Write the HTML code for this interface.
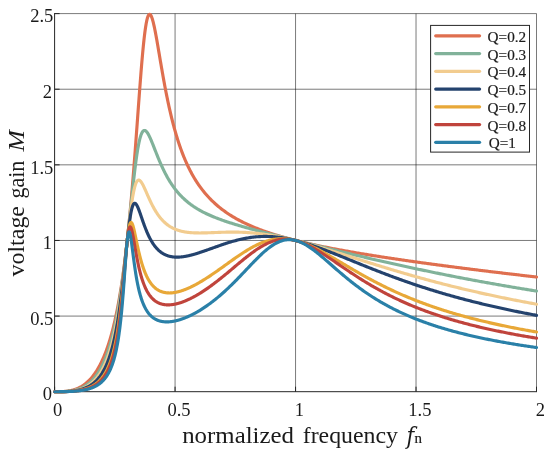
<!DOCTYPE html>
<html><head><meta charset="utf-8"><title>voltage gain</title>
<style>
html,body{margin:0;padding:0;background:#fff;}
svg{display:block;}
text{font-family:"Liberation Serif",serif;fill:#1a1a1a;}
text.fi{font-family:"DejaVu Serif Condensed","DejaVu Serif",serif;font-style:italic;font-size:23.4px;}
</style></head><body>
<svg width="550" height="453" viewBox="0 0 550 453">
<rect width="550" height="453" fill="#fff"/>
<g stroke="#000" stroke-opacity="0.52" stroke-width="1"><line x1="175.07" y1="13.6" x2="175.07" y2="391.7"/><line x1="295.55" y1="13.6" x2="295.55" y2="391.7"/><line x1="416.02" y1="13.6" x2="416.02" y2="391.7"/><line x1="536.50" y1="13.6" x2="536.50" y2="391.7"/><line x1="54.6" y1="316.08" x2="536.5" y2="316.08"/><line x1="54.6" y1="240.46" x2="536.5" y2="240.46"/><line x1="54.6" y1="164.84" x2="536.5" y2="164.84"/><line x1="54.6" y1="89.22" x2="536.5" y2="89.22"/><line x1="54.6" y1="13.60" x2="536.5" y2="13.60"/></g>
<g stroke="#262626" stroke-width="1" fill="none"><line x1="54.6" y1="13.1" x2="54.6" y2="392.2"/><line x1="54.1" y1="391.7" x2="537.0" y2="391.7"/><line x1="54.60" y1="391.7" x2="54.60" y2="386.7"/><line x1="175.07" y1="391.7" x2="175.07" y2="386.7"/><line x1="295.55" y1="391.7" x2="295.55" y2="386.7"/><line x1="416.02" y1="391.7" x2="416.02" y2="386.7"/><line x1="536.50" y1="391.7" x2="536.50" y2="386.7"/><line x1="54.6" y1="391.70" x2="59.6" y2="391.70"/><line x1="54.6" y1="316.08" x2="59.6" y2="316.08"/><line x1="54.6" y1="240.46" x2="59.6" y2="240.46"/><line x1="54.6" y1="164.84" x2="59.6" y2="164.84"/><line x1="54.6" y1="89.22" x2="59.6" y2="89.22"/><line x1="54.6" y1="13.60" x2="59.6" y2="13.60"/></g>
<g><polyline points="54.72,391.70 55.01,391.70 55.30,391.70 55.59,391.70 55.88,391.70 56.17,391.70 56.46,391.70 56.75,391.70 57.04,391.70 57.33,391.69 57.62,391.69 57.90,391.69 58.19,391.69 58.48,391.68 58.77,391.68 59.06,391.68 59.35,391.67 59.64,391.67 59.93,391.66 60.22,391.65 60.51,391.64 60.80,391.64 61.09,391.63 61.38,391.62 61.67,391.60 61.96,391.59 62.25,391.58 62.54,391.56 62.83,391.55 63.12,391.53 63.40,391.52 63.69,391.50 63.98,391.48 64.27,391.46 64.56,391.43 64.85,391.41 65.14,391.38 65.43,391.36 65.72,391.33 66.01,391.30 66.30,391.27 66.59,391.23 66.88,391.20 67.17,391.16 67.46,391.13 67.75,391.09 68.04,391.04 68.33,391.00 68.62,390.96 68.90,390.91 69.19,390.86 69.48,390.81 69.77,390.76 70.06,390.70 70.35,390.64 70.64,390.59 70.93,390.52 71.22,390.46 71.51,390.39 71.80,390.33 72.09,390.26 72.38,390.18 72.67,390.11 72.96,390.03 73.25,389.95 73.54,389.87 73.83,389.78 74.12,389.69 74.40,389.60 74.69,389.51 74.98,389.41 75.27,389.31 75.56,389.21 75.85,389.11 76.14,389.00 76.43,388.89 76.72,388.77 77.01,388.66 77.30,388.54 77.59,388.41 77.88,388.29 78.17,388.16 78.46,388.03 78.75,387.89 79.04,387.75 79.33,387.61 79.62,387.46 79.91,387.31 80.19,387.16 80.48,387.00 80.77,386.84 81.06,386.68 81.35,386.51 81.64,386.34 81.93,386.16 82.22,385.98 82.51,385.80 82.80,385.61 83.09,385.42 83.38,385.22 83.67,385.02 83.96,384.82 84.25,384.61 84.54,384.40 84.83,384.18 85.12,383.96 85.41,383.73 85.69,383.50 85.98,383.27 86.27,383.03 86.56,382.78 86.85,382.53 87.14,382.28 87.43,382.02 87.72,381.76 88.01,381.49 88.30,381.21 88.59,380.93 88.88,380.65 89.17,380.36 89.46,380.06 89.75,379.76 90.04,379.46 90.33,379.15 90.62,378.83 90.91,378.51 91.19,378.18 91.48,377.84 91.77,377.50 92.06,377.16 92.35,376.80 92.64,376.45 92.93,376.08 93.22,375.71 93.51,375.33 93.80,374.95 94.09,374.56 94.38,374.16 94.67,373.75 94.96,373.34 95.25,372.92 95.54,372.50 95.83,372.07 96.12,371.63 96.41,371.18 96.69,370.72 96.98,370.26 97.27,369.79 97.56,369.32 97.85,368.83 98.14,368.34 98.43,367.83 98.72,367.32 99.01,366.81 99.30,366.28 99.59,365.74 99.88,365.20 100.17,364.65 100.46,364.08 100.75,363.51 101.04,362.93 101.33,362.34 101.62,361.74 101.91,361.13 102.19,360.51 102.48,359.88 102.77,359.24 103.06,358.59 103.35,357.93 103.64,357.26 103.93,356.58 104.22,355.89 104.51,355.18 104.80,354.47 105.09,353.74 105.38,353.00 105.67,352.25 105.96,351.49 106.25,350.71 106.54,349.92 106.83,349.12 107.12,348.31 107.41,347.48 107.69,346.64 107.98,345.79 108.27,344.92 108.56,344.04 108.85,343.14 109.14,342.23 109.43,341.30 109.72,340.36 110.01,339.40 110.30,338.43 110.59,337.44 110.88,336.44 111.17,335.41 111.46,334.38 111.75,333.32 112.04,332.25 112.33,331.16 112.62,330.05 112.91,328.92 113.20,327.77 113.48,326.61 113.77,325.42 114.06,324.22 114.35,322.99 114.64,321.75 114.93,320.48 115.22,319.19 115.51,317.88 115.80,316.55 116.09,315.19 116.38,313.81 116.67,312.41 116.96,310.99 117.25,309.54 117.54,308.06 117.83,306.56 118.12,305.04 118.41,303.48 118.70,301.90 118.98,300.30 119.27,298.66 119.56,297.00 119.85,295.31 120.14,293.59 120.43,291.83 120.72,290.05 121.01,288.24 121.30,286.39 121.59,284.52 121.88,282.61 122.17,280.66 122.46,278.69 122.75,276.67 123.04,274.63 123.33,272.54 123.62,270.42 123.91,268.26 124.20,266.07 124.48,263.84 124.77,261.56 125.06,259.25 125.35,256.90 125.64,254.51 125.93,252.07 126.22,249.60 126.51,247.08 126.80,244.52 127.09,241.91 127.38,239.26 127.67,236.57 127.96,233.83 128.25,231.04 128.54,228.21 128.83,225.34 129.12,222.41 129.41,219.44 129.70,216.43 129.98,213.36 130.27,210.25 130.56,207.09 130.85,203.89 131.14,200.64 131.43,197.34 131.72,193.99 132.01,190.60 132.30,187.16 132.59,183.68 132.88,180.15 133.17,176.58 133.46,172.97 133.75,169.32 134.04,165.63 134.33,161.90 134.62,158.14 134.91,154.34 135.20,150.51 135.48,146.65 135.77,142.77 136.06,138.86 136.35,134.93 136.64,130.98 136.93,127.02 137.22,123.05 137.51,119.08 137.80,115.10 138.09,111.12 138.38,107.16 138.67,103.20 138.96,99.27 139.25,95.35 139.54,91.47 139.83,87.62 140.12,83.81 140.41,80.04 140.70,76.33 140.98,72.68 141.27,69.10 141.56,65.58 141.85,62.14 142.14,58.79 142.43,55.52 142.72,52.35 143.01,49.28 143.30,46.32 143.59,43.47 143.88,40.74 144.17,38.13 144.46,35.64 144.75,33.28 145.04,31.06 145.33,28.97 145.62,27.01 145.91,25.20 146.20,23.53 146.49,22.00 146.77,20.61 147.06,19.36 147.35,18.26 147.64,17.30 147.93,16.48 148.22,15.79 148.51,15.24 148.80,14.82 149.09,14.54 149.38,14.38 149.67,14.34 149.96,14.42 150.25,14.62 150.54,14.92 150.83,15.33 151.12,15.85 151.41,16.46 151.70,17.17 151.99,17.96 152.27,18.83 152.56,19.79 152.85,20.82 153.14,21.91 153.43,23.07 153.72,24.30 154.01,25.58 154.30,26.91 154.59,28.28 154.88,29.71 155.17,31.17 155.46,32.67 155.75,34.20 156.04,35.76 156.33,37.35 156.62,38.96 156.91,40.59 157.20,42.24 157.49,43.90 157.77,45.58 158.06,47.27 158.35,48.97 158.64,50.67 158.93,52.38 159.22,54.09 159.51,55.80 159.80,57.51 160.09,59.21 160.38,60.92 160.67,62.62 160.96,64.31 161.25,66.00 161.54,67.68 161.83,69.35 162.12,71.01 162.41,72.66 162.70,74.30 162.99,75.93 163.27,77.54 163.56,79.15 163.85,80.74 164.14,82.31 164.43,83.88 164.72,85.43 165.01,86.96 165.30,88.48 165.59,89.98 165.88,91.47 166.17,92.95 166.46,94.41 166.75,95.85 167.04,97.28 167.33,98.69 167.62,100.09 167.91,101.47 168.20,102.83 168.49,104.18 168.77,105.52 169.06,106.84 169.35,108.14 169.64,109.43 169.93,110.71 170.22,111.96 170.51,113.21 170.80,114.44 171.09,115.65 171.38,116.85 171.67,118.04 171.96,119.21 172.25,120.36 172.54,121.50 172.83,122.63 173.12,123.75 173.41,124.85 173.70,125.94 173.99,127.01 174.27,128.07 174.56,129.12 174.85,130.16 175.14,131.18 175.43,132.19 175.72,133.19 176.01,134.18 176.30,135.15 176.59,136.11 176.88,137.07 177.17,138.00 177.46,138.93 177.75,139.85 178.04,140.76 178.33,141.65 178.62,142.53 178.91,143.41 179.20,144.27 179.49,145.12 179.77,145.97 180.06,146.80 180.35,147.62 180.64,148.44 180.93,149.24 181.22,150.04 181.51,150.82 181.80,151.60 182.09,152.36 182.38,153.12 182.67,153.87 182.96,154.61 183.25,155.35 183.54,156.07 183.83,156.79 184.12,157.49 184.41,158.19 184.70,158.89 184.99,159.57 185.28,160.25 185.56,160.92 185.85,161.58 186.14,162.23 186.43,162.88 186.72,163.52 187.01,164.15 187.30,164.78 187.59,165.40 187.88,166.01 188.17,166.62 188.46,167.21 188.75,167.81 189.04,168.39 189.33,168.98 189.62,169.55 189.91,170.12 190.20,170.68 190.49,171.24 190.78,171.79 191.06,172.33 191.35,172.87 191.64,173.41 191.93,173.94 192.22,174.46 192.51,174.98 192.80,175.49 193.09,176.00 193.38,176.50 193.67,177.00 193.96,177.49 194.25,177.98 194.54,178.46 194.83,178.94 195.12,179.41 195.41,179.88 195.70,180.34 195.99,180.80 196.28,181.26 196.56,181.71 196.85,182.15 197.14,182.60 197.43,183.04 197.72,183.47 198.01,183.90 198.30,184.32 198.59,184.75 198.88,185.16 199.17,185.58 200.30,187.16 201.43,188.68 202.55,190.15 203.68,191.57 204.81,192.95 205.94,194.27 207.07,195.56 208.20,196.80 209.32,198.01 210.45,199.18 211.58,200.31 212.71,201.41 213.84,202.48 214.96,203.52 216.09,204.52 217.22,205.50 218.35,206.45 219.48,207.38 220.61,208.28 221.73,209.15 222.86,210.01 223.99,210.84 225.12,211.65 226.25,212.44 227.37,213.21 228.50,213.96 229.63,214.70 230.76,215.42 231.89,216.12 233.02,216.80 234.14,217.47 235.27,218.12 236.40,218.76 237.53,219.39 238.66,220.00 239.78,220.60 240.91,221.19 242.04,221.76 243.17,222.33 244.30,222.88 245.43,223.42 246.55,223.95 247.68,224.48 248.81,224.99 249.94,225.49 251.07,225.98 252.20,226.47 253.32,226.94 254.45,227.41 255.58,227.87 256.71,228.32 257.84,228.76 258.96,229.20 260.09,229.63 261.22,230.05 262.35,230.47 263.48,230.88 264.61,231.28 265.73,231.68 266.86,232.07 267.99,232.46 269.12,232.84 270.25,233.21 271.37,233.58 272.50,233.94 273.63,234.30 274.76,234.66 275.89,235.01 277.02,235.35 278.14,235.69 279.27,236.03 280.40,236.36 281.53,236.69 282.66,237.01 283.78,237.33 284.91,237.65 286.04,237.96 287.17,238.27 288.30,238.58 289.43,238.88 290.55,239.18 291.68,239.47 292.81,239.76 293.94,240.05 295.07,240.34 296.19,240.62 297.32,240.90 298.45,241.18 299.58,241.45 300.71,241.73 301.84,241.99 302.96,242.26 304.09,242.53 305.22,242.79 306.35,243.05 307.48,243.30 308.60,243.56 309.73,243.81 310.86,244.06 311.99,244.31 313.12,244.56 314.25,244.80 315.37,245.04 316.50,245.28 317.63,245.52 318.76,245.76 319.89,245.99 321.01,246.23 322.14,246.46 323.27,246.69 324.40,246.92 325.53,247.14 326.66,247.37 327.78,247.59 328.91,247.81 330.04,248.03 331.17,248.25 332.30,248.47 333.43,248.68 334.55,248.90 335.68,249.11 336.81,249.32 337.94,249.53 339.07,249.74 340.19,249.95 341.32,250.16 342.45,250.36 343.58,250.57 344.71,250.77 345.84,250.97 346.96,251.17 348.09,251.37 349.22,251.57 350.35,251.77 351.48,251.96 352.60,252.16 353.73,252.35 354.86,252.55 355.99,252.74 357.12,252.93 358.25,253.12 359.37,253.31 360.50,253.50 361.63,253.69 362.76,253.88 363.89,254.06 365.01,254.25 366.14,254.43 367.27,254.62 368.40,254.80 369.53,254.98 370.66,255.16 371.78,255.34 372.91,255.52 374.04,255.70 375.17,255.88 376.30,256.06 377.42,256.23 378.55,256.41 379.68,256.59 380.81,256.76 381.94,256.94 383.07,257.11 384.19,257.28 385.32,257.46 386.45,257.63 387.58,257.80 388.71,257.97 389.83,258.14 390.96,258.31 392.09,258.48 393.22,258.64 394.35,258.81 395.48,258.98 396.60,259.15 397.73,259.31 398.86,259.48 399.99,259.64 401.12,259.81 402.24,259.97 403.37,260.13 404.50,260.30 405.63,260.46 406.76,260.62 407.89,260.78 409.01,260.94 410.14,261.11 411.27,261.27 412.40,261.42 413.53,261.58 414.66,261.74 415.78,261.90 416.91,262.06 418.04,262.22 419.17,262.37 420.30,262.53 421.42,262.69 422.55,262.84 423.68,263.00 424.81,263.15 425.94,263.31 427.07,263.46 428.19,263.61 429.32,263.77 430.45,263.92 431.58,264.07 432.71,264.23 433.83,264.38 434.96,264.53 436.09,264.68 437.22,264.83 438.35,264.98 439.48,265.13 440.60,265.28 441.73,265.43 442.86,265.58 443.99,265.73 445.12,265.88 446.24,266.03 447.37,266.17 448.50,266.32 449.63,266.47 450.76,266.62 451.89,266.76 453.01,266.91 454.14,267.05 455.27,267.20 456.40,267.35 457.53,267.49 458.65,267.63 459.78,267.78 460.91,267.92 462.04,268.07 463.17,268.21 464.30,268.35 465.42,268.50 466.55,268.64 467.68,268.78 468.81,268.92 469.94,269.07 471.06,269.21 472.19,269.35 473.32,269.49 474.45,269.63 475.58,269.77 476.71,269.91 477.83,270.05 478.96,270.19 480.09,270.33 481.22,270.47 482.35,270.61 483.47,270.75 484.60,270.88 485.73,271.02 486.86,271.16 487.99,271.30 489.12,271.44 490.24,271.57 491.37,271.71 492.50,271.85 493.63,271.98 494.76,272.12 495.89,272.25 497.01,272.39 498.14,272.53 499.27,272.66 500.40,272.80 501.53,272.93 502.65,273.07 503.78,273.20 504.91,273.33 506.04,273.47 507.17,273.60 508.30,273.73 509.42,273.87 510.55,274.00 511.68,274.13 512.81,274.27 513.94,274.40 515.06,274.53 516.19,274.66 517.32,274.79 518.45,274.92 519.58,275.06 520.71,275.19 521.83,275.32 522.96,275.45 524.09,275.58 525.22,275.71 526.35,275.84 527.47,275.97 528.60,276.10 529.73,276.23 530.86,276.35 531.99,276.48 533.12,276.61 534.24,276.74 535.37,276.87 536.50,277.00" fill="none" stroke="#DF6F4F" stroke-width="3.15" stroke-linejoin="round" stroke-linecap="round"/><polyline points="54.72,391.70 55.01,391.70 55.30,391.70 55.59,391.70 55.88,391.70 56.17,391.70 56.46,391.70 56.75,391.70 57.04,391.70 57.33,391.70 57.62,391.70 57.90,391.69 58.19,391.69 58.48,391.69 58.77,391.69 59.06,391.68 59.35,391.68 59.64,391.68 59.93,391.67 60.22,391.67 60.51,391.66 60.80,391.66 61.09,391.65 61.38,391.64 61.67,391.64 61.96,391.63 62.25,391.62 62.54,391.61 62.83,391.60 63.12,391.59 63.40,391.58 63.69,391.56 63.98,391.55 64.27,391.54 64.56,391.52 64.85,391.50 65.14,391.49 65.43,391.47 65.72,391.45 66.01,391.43 66.30,391.41 66.59,391.38 66.88,391.36 67.17,391.34 67.46,391.31 67.75,391.28 68.04,391.25 68.33,391.22 68.62,391.19 68.90,391.16 69.19,391.13 69.48,391.09 69.77,391.05 70.06,391.02 70.35,390.98 70.64,390.93 70.93,390.89 71.22,390.85 71.51,390.80 71.80,390.75 72.09,390.70 72.38,390.65 72.67,390.60 72.96,390.54 73.25,390.48 73.54,390.43 73.83,390.36 74.12,390.30 74.40,390.24 74.69,390.17 74.98,390.10 75.27,390.03 75.56,389.95 75.85,389.88 76.14,389.80 76.43,389.72 76.72,389.64 77.01,389.55 77.30,389.46 77.59,389.37 77.88,389.28 78.17,389.19 78.46,389.09 78.75,388.99 79.04,388.88 79.33,388.78 79.62,388.67 79.91,388.56 80.19,388.44 80.48,388.32 80.77,388.20 81.06,388.08 81.35,387.95 81.64,387.82 81.93,387.69 82.22,387.55 82.51,387.41 82.80,387.26 83.09,387.12 83.38,386.97 83.67,386.81 83.96,386.65 84.25,386.49 84.54,386.33 84.83,386.16 85.12,385.98 85.41,385.81 85.69,385.62 85.98,385.44 86.27,385.25 86.56,385.05 86.85,384.86 87.14,384.65 87.43,384.45 87.72,384.23 88.01,384.02 88.30,383.80 88.59,383.57 88.88,383.34 89.17,383.10 89.46,382.86 89.75,382.62 90.04,382.37 90.33,382.11 90.62,381.85 90.91,381.58 91.19,381.31 91.48,381.03 91.77,380.74 92.06,380.45 92.35,380.16 92.64,379.85 92.93,379.54 93.22,379.23 93.51,378.91 93.80,378.58 94.09,378.24 94.38,377.90 94.67,377.55 94.96,377.20 95.25,376.84 95.54,376.47 95.83,376.09 96.12,375.70 96.41,375.31 96.69,374.91 96.98,374.50 97.27,374.09 97.56,373.66 97.85,373.23 98.14,372.79 98.43,372.34 98.72,371.88 99.01,371.41 99.30,370.94 99.59,370.45 99.88,369.96 100.17,369.45 100.46,368.93 100.75,368.41 101.04,367.87 101.33,367.33 101.62,366.77 101.91,366.20 102.19,365.63 102.48,365.04 102.77,364.44 103.06,363.82 103.35,363.20 103.64,362.56 103.93,361.92 104.22,361.25 104.51,360.58 104.80,359.89 105.09,359.19 105.38,358.48 105.67,357.75 105.96,357.01 106.25,356.25 106.54,355.48 106.83,354.70 107.12,353.90 107.41,353.08 107.69,352.25 107.98,351.40 108.27,350.54 108.56,349.66 108.85,348.76 109.14,347.85 109.43,346.91 109.72,345.96 110.01,344.99 110.30,344.01 110.59,343.00 110.88,341.97 111.17,340.93 111.46,339.86 111.75,338.77 112.04,337.67 112.33,336.54 112.62,335.39 112.91,334.21 113.20,333.02 113.48,331.80 113.77,330.56 114.06,329.29 114.35,328.01 114.64,326.69 114.93,325.35 115.22,323.99 115.51,322.60 115.80,321.18 116.09,319.74 116.38,318.27 116.67,316.77 116.96,315.24 117.25,313.69 117.54,312.10 117.83,310.49 118.12,308.85 118.41,307.17 118.70,305.47 118.98,303.73 119.27,301.97 119.56,300.17 119.85,298.34 120.14,296.48 120.43,294.58 120.72,292.66 121.01,290.70 121.30,288.70 121.59,286.67 121.88,284.61 122.17,282.52 122.46,280.39 122.75,278.23 123.04,276.03 123.33,273.80 123.62,271.54 123.91,269.24 124.20,266.91 124.48,264.55 124.77,262.15 125.06,259.73 125.35,257.27 125.64,254.78 125.93,252.26 126.22,249.72 126.51,247.14 126.80,244.54 127.09,241.91 127.38,239.26 127.67,236.59 127.96,233.90 128.25,231.18 128.54,228.45 128.83,225.71 129.12,222.95 129.41,220.18 129.70,217.40 129.98,214.62 130.27,211.83 130.56,209.04 130.85,206.26 131.14,203.48 131.43,200.71 131.72,197.95 132.01,195.20 132.30,192.48 132.59,189.77 132.88,187.10 133.17,184.45 133.46,181.83 133.75,179.25 134.04,176.72 134.33,174.22 134.62,171.77 134.91,169.38 135.20,167.03 135.48,164.75 135.77,162.52 136.06,160.36 136.35,158.26 136.64,156.23 136.93,154.27 137.22,152.39 137.51,150.58 137.80,148.84 138.09,147.19 138.38,145.61 138.67,144.11 138.96,142.70 139.25,141.36 139.54,140.11 139.83,138.94 140.12,137.85 140.41,136.84 140.70,135.91 140.98,135.06 141.27,134.29 141.56,133.59 141.85,132.97 142.14,132.42 142.43,131.94 142.72,131.54 143.01,131.20 143.30,130.93 143.59,130.72 143.88,130.57 144.17,130.48 144.46,130.45 144.75,130.47 145.04,130.54 145.33,130.67 145.62,130.84 145.91,131.05 146.20,131.31 146.49,131.61 146.77,131.95 147.06,132.32 147.35,132.72 147.64,133.16 147.93,133.63 148.22,134.12 148.51,134.64 148.80,135.19 149.09,135.75 149.38,136.34 149.67,136.94 149.96,137.57 150.25,138.21 150.54,138.86 150.83,139.52 151.12,140.20 151.41,140.89 151.70,141.58 151.99,142.29 152.27,143.00 152.56,143.72 152.85,144.44 153.14,145.17 153.43,145.90 153.72,146.63 154.01,147.37 154.30,148.10 154.59,148.84 154.88,149.58 155.17,150.31 155.46,151.05 155.75,151.78 156.04,152.52 156.33,153.24 156.62,153.97 156.91,154.69 157.20,155.41 157.49,156.13 157.77,156.84 158.06,157.55 158.35,158.25 158.64,158.95 158.93,159.65 159.22,160.33 159.51,161.02 159.80,161.69 160.09,162.37 160.38,163.03 160.67,163.69 160.96,164.35 161.25,164.99 161.54,165.64 161.83,166.27 162.12,166.90 162.41,167.53 162.70,168.14 162.99,168.75 163.27,169.36 163.56,169.96 163.85,170.55 164.14,171.14 164.43,171.72 164.72,172.29 165.01,172.86 165.30,173.42 165.59,173.97 165.88,174.52 166.17,175.06 166.46,175.60 166.75,176.13 167.04,176.66 167.33,177.17 167.62,177.69 167.91,178.19 168.20,178.69 168.49,179.19 168.77,179.68 169.06,180.16 169.35,180.64 169.64,181.11 169.93,181.58 170.22,182.04 170.51,182.50 170.80,182.95 171.09,183.40 171.38,183.84 171.67,184.27 171.96,184.70 172.25,185.13 172.54,185.55 172.83,185.97 173.12,186.38 173.41,186.78 173.70,187.18 173.99,187.58 174.27,187.97 174.56,188.36 174.85,188.75 175.14,189.12 175.43,189.50 175.72,189.87 176.01,190.24 176.30,190.60 176.59,190.96 176.88,191.31 177.17,191.66 177.46,192.00 177.75,192.35 178.04,192.69 178.33,193.02 178.62,193.35 178.91,193.68 179.20,194.00 179.49,194.32 179.77,194.64 180.06,194.95 180.35,195.26 180.64,195.56 180.93,195.87 181.22,196.17 181.51,196.46 181.80,196.76 182.09,197.05 182.38,197.33 182.67,197.62 182.96,197.90 183.25,198.17 183.54,198.45 183.83,198.72 184.12,198.99 184.41,199.26 184.70,199.52 184.99,199.78 185.28,200.04 185.56,200.29 185.85,200.55 186.14,200.80 186.43,201.04 186.72,201.29 187.01,201.53 187.30,201.77 187.59,202.01 187.88,202.25 188.17,202.48 188.46,202.71 188.75,202.94 189.04,203.17 189.33,203.39 189.62,203.61 189.91,203.83 190.20,204.05 190.49,204.27 190.78,204.48 191.06,204.69 191.35,204.90 191.64,205.11 191.93,205.32 192.22,205.52 192.51,205.72 192.80,205.92 193.09,206.12 193.38,206.32 193.67,206.52 193.96,206.71 194.25,206.90 194.54,207.09 194.83,207.28 195.12,207.47 195.41,207.65 195.70,207.83 195.99,208.02 196.28,208.20 196.56,208.38 196.85,208.55 197.14,208.73 197.43,208.90 197.72,209.08 198.01,209.25 198.30,209.42 198.59,209.59 198.88,209.75 199.17,209.92 200.30,210.56 201.43,211.17 202.55,211.77 203.68,212.35 204.81,212.92 205.94,213.47 207.07,214.00 208.20,214.52 209.32,215.03 210.45,215.53 211.58,216.02 212.71,216.49 213.84,216.95 214.96,217.41 216.09,217.85 217.22,218.29 218.35,218.72 219.48,219.14 220.61,219.55 221.73,219.96 222.86,220.36 223.99,220.75 225.12,221.14 226.25,221.52 227.37,221.89 228.50,222.26 229.63,222.63 230.76,222.99 231.89,223.35 233.02,223.70 234.14,224.05 235.27,224.39 236.40,224.73 237.53,225.07 238.66,225.41 239.78,225.74 240.91,226.07 242.04,226.40 243.17,226.72 244.30,227.04 245.43,227.36 246.55,227.68 247.68,228.00 248.81,228.31 249.94,228.62 251.07,228.93 252.20,229.24 253.32,229.55 254.45,229.85 255.58,230.16 256.71,230.46 257.84,230.76 258.96,231.06 260.09,231.36 261.22,231.66 262.35,231.96 263.48,232.26 264.61,232.55 265.73,232.85 266.86,233.14 267.99,233.44 269.12,233.73 270.25,234.02 271.37,234.31 272.50,234.61 273.63,234.90 274.76,235.19 275.89,235.48 277.02,235.76 278.14,236.05 279.27,236.34 280.40,236.63 281.53,236.92 282.66,237.20 283.78,237.49 284.91,237.78 286.04,238.06 287.17,238.35 288.30,238.63 289.43,238.92 290.55,239.20 291.68,239.49 292.81,239.77 293.94,240.06 295.07,240.34 296.19,240.62 297.32,240.90 298.45,241.19 299.58,241.47 300.71,241.75 301.84,242.03 302.96,242.32 304.09,242.60 305.22,242.88 306.35,243.16 307.48,243.44 308.60,243.72 309.73,244.00 310.86,244.28 311.99,244.56 313.12,244.84 314.25,245.12 315.37,245.40 316.50,245.68 317.63,245.96 318.76,246.23 319.89,246.51 321.01,246.79 322.14,247.07 323.27,247.34 324.40,247.62 325.53,247.90 326.66,248.17 327.78,248.45 328.91,248.72 330.04,249.00 331.17,249.27 332.30,249.55 333.43,249.82 334.55,250.10 335.68,250.37 336.81,250.64 337.94,250.92 339.07,251.19 340.19,251.46 341.32,251.73 342.45,252.01 343.58,252.28 344.71,252.55 345.84,252.82 346.96,253.09 348.09,253.36 349.22,253.63 350.35,253.90 351.48,254.17 352.60,254.43 353.73,254.70 354.86,254.97 355.99,255.24 357.12,255.50 358.25,255.77 359.37,256.03 360.50,256.30 361.63,256.56 362.76,256.83 363.89,257.09 365.01,257.36 366.14,257.62 367.27,257.88 368.40,258.14 369.53,258.41 370.66,258.67 371.78,258.93 372.91,259.19 374.04,259.45 375.17,259.71 376.30,259.97 377.42,260.22 378.55,260.48 379.68,260.74 380.81,261.00 381.94,261.25 383.07,261.51 384.19,261.76 385.32,262.02 386.45,262.27 387.58,262.53 388.71,262.78 389.83,263.03 390.96,263.29 392.09,263.54 393.22,263.79 394.35,264.04 395.48,264.29 396.60,264.54 397.73,264.79 398.86,265.04 399.99,265.28 401.12,265.53 402.24,265.78 403.37,266.03 404.50,266.27 405.63,266.52 406.76,266.76 407.89,267.01 409.01,267.25 410.14,267.49 411.27,267.73 412.40,267.98 413.53,268.22 414.66,268.46 415.78,268.70 416.91,268.94 418.04,269.18 419.17,269.42 420.30,269.65 421.42,269.89 422.55,270.13 423.68,270.36 424.81,270.60 425.94,270.83 427.07,271.07 428.19,271.30 429.32,271.54 430.45,271.77 431.58,272.00 432.71,272.23 433.83,272.46 434.96,272.69 436.09,272.92 437.22,273.15 438.35,273.38 439.48,273.61 440.60,273.84 441.73,274.06 442.86,274.29 443.99,274.51 445.12,274.74 446.24,274.96 447.37,275.19 448.50,275.41 449.63,275.63 450.76,275.86 451.89,276.08 453.01,276.30 454.14,276.52 455.27,276.74 456.40,276.96 457.53,277.18 458.65,277.39 459.78,277.61 460.91,277.83 462.04,278.05 463.17,278.26 464.30,278.48 465.42,278.69 466.55,278.90 467.68,279.12 468.81,279.33 469.94,279.54 471.06,279.75 472.19,279.97 473.32,280.18 474.45,280.39 475.58,280.60 476.71,280.80 477.83,281.01 478.96,281.22 480.09,281.43 481.22,281.63 482.35,281.84 483.47,282.04 484.60,282.25 485.73,282.45 486.86,282.66 487.99,282.86 489.12,283.06 490.24,283.26 491.37,283.47 492.50,283.67 493.63,283.87 494.76,284.07 495.89,284.26 497.01,284.46 498.14,284.66 499.27,284.86 500.40,285.06 501.53,285.25 502.65,285.45 503.78,285.64 504.91,285.84 506.04,286.03 507.17,286.22 508.30,286.42 509.42,286.61 510.55,286.80 511.68,286.99 512.81,287.18 513.94,287.37 515.06,287.56 516.19,287.75 517.32,287.94 518.45,288.13 519.58,288.32 520.71,288.50 521.83,288.69 522.96,288.88 524.09,289.06 525.22,289.25 526.35,289.43 527.47,289.61 528.60,289.80 529.73,289.98 530.86,290.16 531.99,290.34 533.12,290.52 534.24,290.70 535.37,290.88 536.50,291.06" fill="none" stroke="#81B29A" stroke-width="3.15" stroke-linejoin="round" stroke-linecap="round"/><polyline points="54.72,391.70 55.01,391.70 55.30,391.70 55.59,391.70 55.88,391.70 56.17,391.70 56.46,391.70 56.75,391.70 57.04,391.70 57.33,391.70 57.62,391.70 57.90,391.70 58.19,391.69 58.48,391.69 58.77,391.69 59.06,391.69 59.35,391.69 59.64,391.68 59.93,391.68 60.22,391.68 60.51,391.67 60.80,391.67 61.09,391.66 61.38,391.66 61.67,391.65 61.96,391.65 62.25,391.64 62.54,391.63 62.83,391.62 63.12,391.62 63.40,391.61 63.69,391.60 63.98,391.59 64.27,391.58 64.56,391.56 64.85,391.55 65.14,391.54 65.43,391.53 65.72,391.51 66.01,391.50 66.30,391.48 66.59,391.46 66.88,391.44 67.17,391.43 67.46,391.41 67.75,391.38 68.04,391.36 68.33,391.34 68.62,391.32 68.90,391.29 69.19,391.27 69.48,391.24 69.77,391.21 70.06,391.18 70.35,391.15 70.64,391.12 70.93,391.09 71.22,391.05 71.51,391.02 71.80,390.98 72.09,390.94 72.38,390.90 72.67,390.86 72.96,390.82 73.25,390.77 73.54,390.73 73.83,390.68 74.12,390.63 74.40,390.58 74.69,390.53 74.98,390.48 75.27,390.42 75.56,390.37 75.85,390.31 76.14,390.25 76.43,390.18 76.72,390.12 77.01,390.05 77.30,389.99 77.59,389.91 77.88,389.84 78.17,389.77 78.46,389.69 78.75,389.61 79.04,389.53 79.33,389.45 79.62,389.36 79.91,389.27 80.19,389.18 80.48,389.09 80.77,389.00 81.06,388.90 81.35,388.80 81.64,388.69 81.93,388.59 82.22,388.48 82.51,388.37 82.80,388.25 83.09,388.14 83.38,388.02 83.67,387.89 83.96,387.77 84.25,387.64 84.54,387.51 84.83,387.37 85.12,387.23 85.41,387.09 85.69,386.94 85.98,386.79 86.27,386.64 86.56,386.48 86.85,386.32 87.14,386.16 87.43,385.99 87.72,385.82 88.01,385.64 88.30,385.46 88.59,385.28 88.88,385.09 89.17,384.89 89.46,384.70 89.75,384.49 90.04,384.29 90.33,384.08 90.62,383.86 90.91,383.64 91.19,383.41 91.48,383.18 91.77,382.94 92.06,382.70 92.35,382.45 92.64,382.20 92.93,381.94 93.22,381.68 93.51,381.41 93.80,381.13 94.09,380.85 94.38,380.56 94.67,380.26 94.96,379.96 95.25,379.65 95.54,379.34 95.83,379.02 96.12,378.69 96.41,378.35 96.69,378.01 96.98,377.66 97.27,377.30 97.56,376.93 97.85,376.55 98.14,376.17 98.43,375.78 98.72,375.38 99.01,374.97 99.30,374.55 99.59,374.12 99.88,373.69 100.17,373.24 100.46,372.79 100.75,372.32 101.04,371.84 101.33,371.36 101.62,370.86 101.91,370.35 102.19,369.83 102.48,369.30 102.77,368.76 103.06,368.20 103.35,367.64 103.64,367.06 103.93,366.46 104.22,365.86 104.51,365.24 104.80,364.61 105.09,363.96 105.38,363.30 105.67,362.62 105.96,361.93 106.25,361.23 106.54,360.51 106.83,359.77 107.12,359.01 107.41,358.24 107.69,357.45 107.98,356.65 108.27,355.82 108.56,354.98 108.85,354.12 109.14,353.24 109.43,352.33 109.72,351.41 110.01,350.47 110.30,349.51 110.59,348.52 110.88,347.51 111.17,346.48 111.46,345.43 111.75,344.35 112.04,343.25 112.33,342.12 112.62,340.97 112.91,339.79 113.20,338.58 113.48,337.35 113.77,336.09 114.06,334.80 114.35,333.48 114.64,332.13 114.93,330.75 115.22,329.34 115.51,327.90 115.80,326.43 116.09,324.92 116.38,323.38 116.67,321.81 116.96,320.20 117.25,318.56 117.54,316.89 117.83,315.17 118.12,313.42 118.41,311.64 118.70,309.81 118.98,307.95 119.27,306.06 119.56,304.12 119.85,302.14 120.14,300.13 120.43,298.08 120.72,295.99 121.01,293.86 121.30,291.69 121.59,289.49 121.88,287.25 122.17,284.97 122.46,282.65 122.75,280.30 123.04,277.92 123.33,275.50 123.62,273.05 123.91,270.57 124.20,268.06 124.48,265.52 124.77,262.96 125.06,260.38 125.35,257.78 125.64,255.16 125.93,252.53 126.22,249.88 126.51,247.23 126.80,244.57 127.09,241.92 127.38,239.27 127.67,236.62 127.96,233.99 128.25,231.38 128.54,228.79 128.83,226.22 129.12,223.69 129.41,221.19 129.70,218.74 129.98,216.33 130.27,213.97 130.56,211.67 130.85,209.43 131.14,207.25 131.43,205.14 131.72,203.10 132.01,201.15 132.30,199.27 132.59,197.47 132.88,195.76 133.17,194.14 133.46,192.60 133.75,191.16 134.04,189.81 134.33,188.55 134.62,187.39 134.91,186.32 135.20,185.33 135.48,184.44 135.77,183.64 136.06,182.93 136.35,182.31 136.64,181.76 136.93,181.30 137.22,180.92 137.51,180.61 137.80,180.38 138.09,180.22 138.38,180.12 138.67,180.09 138.96,180.12 139.25,180.20 139.54,180.34 139.83,180.53 140.12,180.77 140.41,181.05 140.70,181.37 140.98,181.73 141.27,182.12 141.56,182.55 141.85,183.01 142.14,183.50 142.43,184.01 142.72,184.54 143.01,185.09 143.30,185.66 143.59,186.25 143.88,186.85 144.17,187.46 144.46,188.09 144.75,188.72 145.04,189.36 145.33,190.01 145.62,190.66 145.91,191.32 146.20,191.98 146.49,192.64 146.77,193.30 147.06,193.96 147.35,194.62 147.64,195.27 147.93,195.93 148.22,196.58 148.51,197.23 148.80,197.87 149.09,198.51 149.38,199.15 149.67,199.78 149.96,200.40 150.25,201.02 150.54,201.63 150.83,202.23 151.12,202.83 151.41,203.42 151.70,204.00 151.99,204.58 152.27,205.14 152.56,205.70 152.85,206.25 153.14,206.80 153.43,207.34 153.72,207.86 154.01,208.38 154.30,208.90 154.59,209.40 154.88,209.90 155.17,210.39 155.46,210.87 155.75,211.34 156.04,211.81 156.33,212.26 156.62,212.71 156.91,213.16 157.20,213.59 157.49,214.02 157.77,214.44 158.06,214.85 158.35,215.26 158.64,215.65 158.93,216.04 159.22,216.43 159.51,216.80 159.80,217.17 160.09,217.54 160.38,217.89 160.67,218.24 160.96,218.59 161.25,218.92 161.54,219.25 161.83,219.58 162.12,219.90 162.41,220.21 162.70,220.51 162.99,220.81 163.27,221.11 163.56,221.40 163.85,221.68 164.14,221.96 164.43,222.23 164.72,222.50 165.01,222.76 165.30,223.01 165.59,223.27 165.88,223.51 166.17,223.75 166.46,223.99 166.75,224.22 167.04,224.45 167.33,224.67 167.62,224.89 167.91,225.10 168.20,225.31 168.49,225.51 168.77,225.71 169.06,225.91 169.35,226.10 169.64,226.29 169.93,226.47 170.22,226.65 170.51,226.83 170.80,227.00 171.09,227.17 171.38,227.33 171.67,227.49 171.96,227.65 172.25,227.81 172.54,227.96 172.83,228.10 173.12,228.25 173.41,228.39 173.70,228.53 173.99,228.66 174.27,228.79 174.56,228.92 174.85,229.05 175.14,229.17 175.43,229.29 175.72,229.41 176.01,229.52 176.30,229.63 176.59,229.74 176.88,229.85 177.17,229.95 177.46,230.05 177.75,230.15 178.04,230.25 178.33,230.34 178.62,230.44 178.91,230.52 179.20,230.61 179.49,230.70 179.77,230.78 180.06,230.86 180.35,230.94 180.64,231.01 180.93,231.09 181.22,231.16 181.51,231.23 181.80,231.30 182.09,231.37 182.38,231.43 182.67,231.49 182.96,231.55 183.25,231.61 183.54,231.67 183.83,231.73 184.12,231.78 184.41,231.83 184.70,231.88 184.99,231.93 185.28,231.98 185.56,232.03 185.85,232.07 186.14,232.12 186.43,232.16 186.72,232.20 187.01,232.24 187.30,232.28 187.59,232.31 187.88,232.35 188.17,232.38 188.46,232.41 188.75,232.45 189.04,232.48 189.33,232.51 189.62,232.53 189.91,232.56 190.20,232.59 190.49,232.61 190.78,232.63 191.06,232.66 191.35,232.68 191.64,232.70 191.93,232.72 192.22,232.74 192.51,232.76 192.80,232.77 193.09,232.79 193.38,232.80 193.67,232.82 193.96,232.83 194.25,232.84 194.54,232.86 194.83,232.87 195.12,232.88 195.41,232.89 195.70,232.89 195.99,232.90 196.28,232.91 196.56,232.92 196.85,232.92 197.14,232.93 197.43,232.93 197.72,232.94 198.01,232.94 198.30,232.94 198.59,232.94 198.88,232.95 199.17,232.95 200.30,232.95 201.43,232.94 202.55,232.93 203.68,232.91 204.81,232.88 205.94,232.85 207.07,232.82 208.20,232.78 209.32,232.75 210.45,232.71 211.58,232.66 212.71,232.62 213.84,232.58 214.96,232.53 216.09,232.49 217.22,232.45 218.35,232.41 219.48,232.37 220.61,232.33 221.73,232.30 222.86,232.26 223.99,232.23 225.12,232.20 226.25,232.18 227.37,232.16 228.50,232.14 229.63,232.13 230.76,232.12 231.89,232.12 233.02,232.12 234.14,232.12 235.27,232.13 236.40,232.14 237.53,232.16 238.66,232.18 239.78,232.21 240.91,232.25 242.04,232.29 243.17,232.33 244.30,232.38 245.43,232.44 246.55,232.50 247.68,232.57 248.81,232.65 249.94,232.72 251.07,232.81 252.20,232.90 253.32,233.00 254.45,233.10 255.58,233.21 256.71,233.32 257.84,233.44 258.96,233.57 260.09,233.70 261.22,233.84 262.35,233.98 263.48,234.13 264.61,234.28 265.73,234.44 266.86,234.61 267.99,234.78 269.12,234.96 270.25,235.14 271.37,235.33 272.50,235.52 273.63,235.72 274.76,235.92 275.89,236.12 277.02,236.34 278.14,236.55 279.27,236.78 280.40,237.00 281.53,237.23 282.66,237.47 283.78,237.71 284.91,237.96 286.04,238.20 287.17,238.46 288.30,238.71 289.43,238.98 290.55,239.24 291.68,239.51 292.81,239.78 293.94,240.06 295.07,240.34 296.19,240.62 297.32,240.91 298.45,241.20 299.58,241.49 300.71,241.79 301.84,242.09 302.96,242.39 304.09,242.70 305.22,243.01 306.35,243.32 307.48,243.63 308.60,243.95 309.73,244.26 310.86,244.58 311.99,244.91 313.12,245.23 314.25,245.56 315.37,245.89 316.50,246.22 317.63,246.55 318.76,246.89 319.89,247.23 321.01,247.56 322.14,247.90 323.27,248.25 324.40,248.59 325.53,248.93 326.66,249.28 327.78,249.63 328.91,249.97 330.04,250.32 331.17,250.67 332.30,251.02 333.43,251.38 334.55,251.73 335.68,252.08 336.81,252.44 337.94,252.79 339.07,253.15 340.19,253.50 341.32,253.86 342.45,254.22 343.58,254.57 344.71,254.93 345.84,255.29 346.96,255.65 348.09,256.01 349.22,256.36 350.35,256.72 351.48,257.08 352.60,257.44 353.73,257.80 354.86,258.16 355.99,258.52 357.12,258.87 358.25,259.23 359.37,259.59 360.50,259.95 361.63,260.31 362.76,260.66 363.89,261.02 365.01,261.38 366.14,261.73 367.27,262.09 368.40,262.44 369.53,262.80 370.66,263.15 371.78,263.50 372.91,263.86 374.04,264.21 375.17,264.56 376.30,264.91 377.42,265.26 378.55,265.61 379.68,265.96 380.81,266.31 381.94,266.66 383.07,267.00 384.19,267.35 385.32,267.69 386.45,268.04 387.58,268.38 388.71,268.72 389.83,269.06 390.96,269.40 392.09,269.74 393.22,270.08 394.35,270.42 395.48,270.76 396.60,271.09 397.73,271.43 398.86,271.76 399.99,272.09 401.12,272.42 402.24,272.75 403.37,273.08 404.50,273.41 405.63,273.74 406.76,274.07 407.89,274.39 409.01,274.72 410.14,275.04 411.27,275.36 412.40,275.68 413.53,276.00 414.66,276.32 415.78,276.64 416.91,276.96 418.04,277.27 419.17,277.58 420.30,277.90 421.42,278.21 422.55,278.52 423.68,278.83 424.81,279.14 425.94,279.45 427.07,279.75 428.19,280.06 429.32,280.36 430.45,280.66 431.58,280.97 432.71,281.27 433.83,281.57 434.96,281.86 436.09,282.16 437.22,282.46 438.35,282.75 439.48,283.04 440.60,283.34 441.73,283.63 442.86,283.92 443.99,284.21 445.12,284.49 446.24,284.78 447.37,285.07 448.50,285.35 449.63,285.63 450.76,285.91 451.89,286.20 453.01,286.47 454.14,286.75 455.27,287.03 456.40,287.31 457.53,287.58 458.65,287.85 459.78,288.13 460.91,288.40 462.04,288.67 463.17,288.94 464.30,289.21 465.42,289.47 466.55,289.74 467.68,290.00 468.81,290.27 469.94,290.53 471.06,290.79 472.19,291.05 473.32,291.31 474.45,291.57 475.58,291.83 476.71,292.08 477.83,292.34 478.96,292.59 480.09,292.84 481.22,293.09 482.35,293.34 483.47,293.59 484.60,293.84 485.73,294.09 486.86,294.34 487.99,294.58 489.12,294.83 490.24,295.07 491.37,295.31 492.50,295.55 493.63,295.79 494.76,296.03 495.89,296.27 497.01,296.50 498.14,296.74 499.27,296.98 500.40,297.21 501.53,297.44 502.65,297.67 503.78,297.90 504.91,298.13 506.04,298.36 507.17,298.59 508.30,298.82 509.42,299.04 510.55,299.27 511.68,299.49 512.81,299.72 513.94,299.94 515.06,300.16 516.19,300.38 517.32,300.60 518.45,300.82 519.58,301.03 520.71,301.25 521.83,301.47 522.96,301.68 524.09,301.89 525.22,302.11 526.35,302.32 527.47,302.53 528.60,302.74 529.73,302.95 530.86,303.16 531.99,303.37 533.12,303.57 534.24,303.78 535.37,303.98 536.50,304.19" fill="none" stroke="#F2CC8F" stroke-width="3.15" stroke-linejoin="round" stroke-linecap="round"/><polyline points="54.72,391.70 55.01,391.70 55.30,391.70 55.59,391.70 55.88,391.70 56.17,391.70 56.46,391.70 56.75,391.70 57.04,391.70 57.33,391.70 57.62,391.70 57.90,391.70 58.19,391.69 58.48,391.69 58.77,391.69 59.06,391.69 59.35,391.69 59.64,391.69 59.93,391.68 60.22,391.68 60.51,391.68 60.80,391.67 61.09,391.67 61.38,391.67 61.67,391.66 61.96,391.66 62.25,391.65 62.54,391.65 62.83,391.64 63.12,391.63 63.40,391.63 63.69,391.62 63.98,391.61 64.27,391.60 64.56,391.59 64.85,391.58 65.14,391.57 65.43,391.56 65.72,391.55 66.01,391.54 66.30,391.52 66.59,391.51 66.88,391.49 67.17,391.48 67.46,391.46 67.75,391.45 68.04,391.43 68.33,391.41 68.62,391.39 68.90,391.37 69.19,391.35 69.48,391.33 69.77,391.31 70.06,391.28 70.35,391.26 70.64,391.23 70.93,391.21 71.22,391.18 71.51,391.15 71.80,391.12 72.09,391.09 72.38,391.06 72.67,391.02 72.96,390.99 73.25,390.95 73.54,390.92 73.83,390.88 74.12,390.84 74.40,390.80 74.69,390.76 74.98,390.71 75.27,390.67 75.56,390.62 75.85,390.58 76.14,390.53 76.43,390.48 76.72,390.42 77.01,390.37 77.30,390.31 77.59,390.26 77.88,390.20 78.17,390.14 78.46,390.07 78.75,390.01 79.04,389.94 79.33,389.88 79.62,389.81 79.91,389.73 80.19,389.66 80.48,389.58 80.77,389.51 81.06,389.43 81.35,389.34 81.64,389.26 81.93,389.17 82.22,389.08 82.51,388.99 82.80,388.90 83.09,388.80 83.38,388.70 83.67,388.60 83.96,388.50 84.25,388.39 84.54,388.28 84.83,388.17 85.12,388.05 85.41,387.93 85.69,387.81 85.98,387.69 86.27,387.56 86.56,387.43 86.85,387.30 87.14,387.16 87.43,387.02 87.72,386.88 88.01,386.73 88.30,386.58 88.59,386.43 88.88,386.27 89.17,386.11 89.46,385.94 89.75,385.77 90.04,385.60 90.33,385.42 90.62,385.24 90.91,385.05 91.19,384.86 91.48,384.66 91.77,384.46 92.06,384.26 92.35,384.05 92.64,383.84 92.93,383.62 93.22,383.39 93.51,383.16 93.80,382.93 94.09,382.69 94.38,382.44 94.67,382.19 94.96,381.93 95.25,381.67 95.54,381.40 95.83,381.12 96.12,380.84 96.41,380.55 96.69,380.25 96.98,379.95 97.27,379.64 97.56,379.32 97.85,379.00 98.14,378.66 98.43,378.32 98.72,377.97 99.01,377.62 99.30,377.25 99.59,376.88 99.88,376.50 100.17,376.11 100.46,375.70 100.75,375.29 101.04,374.87 101.33,374.44 101.62,374.00 101.91,373.55 102.19,373.09 102.48,372.62 102.77,372.14 103.06,371.64 103.35,371.13 103.64,370.61 103.93,370.08 104.22,369.54 104.51,368.98 104.80,368.41 105.09,367.82 105.38,367.22 105.67,366.61 105.96,365.98 106.25,365.33 106.54,364.67 106.83,363.99 107.12,363.30 107.41,362.59 107.69,361.86 107.98,361.11 108.27,360.34 108.56,359.55 108.85,358.75 109.14,357.92 109.43,357.07 109.72,356.20 110.01,355.31 110.30,354.40 110.59,353.46 110.88,352.50 111.17,351.51 111.46,350.50 111.75,349.46 112.04,348.39 112.33,347.30 112.62,346.18 112.91,345.03 113.20,343.85 113.48,342.63 113.77,341.39 114.06,340.11 114.35,338.80 114.64,337.46 114.93,336.08 115.22,334.66 115.51,333.21 115.80,331.72 116.09,330.19 116.38,328.62 116.67,327.01 116.96,325.36 117.25,323.67 117.54,321.93 117.83,320.15 118.12,318.33 118.41,316.46 118.70,314.54 118.98,312.58 119.27,310.57 119.56,308.52 119.85,306.41 120.14,304.26 120.43,302.06 120.72,299.81 121.01,297.52 121.30,295.18 121.59,292.79 121.88,290.36 122.17,287.89 122.46,285.37 122.75,282.81 123.04,280.21 123.33,277.58 123.62,274.91 123.91,272.22 124.20,269.49 124.48,266.75 124.77,263.99 125.06,261.21 125.35,258.43 125.64,255.64 125.93,252.86 126.22,250.10 126.51,247.34 126.80,244.62 127.09,241.92 127.38,239.27 127.67,236.67 127.96,234.12 128.25,231.63 128.54,229.21 128.83,226.88 129.12,224.63 129.41,222.47 129.70,220.41 129.98,218.46 130.27,216.61 130.56,214.88 130.85,213.27 131.14,211.78 131.43,210.41 131.72,209.17 132.01,208.05 132.30,207.06 132.59,206.19 132.88,205.44 133.17,204.80 133.46,204.29 133.75,203.89 134.04,203.59 134.33,203.40 134.62,203.30 134.91,203.30 135.20,203.39 135.48,203.56 135.77,203.80 136.06,204.12 136.35,204.50 136.64,204.95 136.93,205.45 137.22,206.00 137.51,206.59 137.80,207.23 138.09,207.90 138.38,208.60 138.67,209.34 138.96,210.09 139.25,210.87 139.54,211.67 139.83,212.48 140.12,213.30 140.41,214.13 140.70,214.97 140.98,215.81 141.27,216.66 141.56,217.50 141.85,218.35 142.14,219.19 142.43,220.03 142.72,220.86 143.01,221.69 143.30,222.51 143.59,223.33 143.88,224.13 144.17,224.93 144.46,225.71 144.75,226.49 145.04,227.25 145.33,228.01 145.62,228.75 145.91,229.48 146.20,230.19 146.49,230.90 146.77,231.59 147.06,232.27 147.35,232.94 147.64,233.60 147.93,234.24 148.22,234.87 148.51,235.49 148.80,236.10 149.09,236.69 149.38,237.27 149.67,237.84 149.96,238.40 150.25,238.94 150.54,239.48 150.83,240.00 151.12,240.51 151.41,241.01 151.70,241.50 151.99,241.98 152.27,242.44 152.56,242.90 152.85,243.34 153.14,243.78 153.43,244.20 153.72,244.62 154.01,245.02 154.30,245.42 154.59,245.80 154.88,246.18 155.17,246.55 155.46,246.91 155.75,247.26 156.04,247.60 156.33,247.93 156.62,248.25 156.91,248.57 157.20,248.88 157.49,249.18 157.77,249.47 158.06,249.76 158.35,250.03 158.64,250.30 158.93,250.57 159.22,250.82 159.51,251.07 159.80,251.31 160.09,251.55 160.38,251.78 160.67,252.00 160.96,252.22 161.25,252.43 161.54,252.63 161.83,252.83 162.12,253.02 162.41,253.21 162.70,253.39 162.99,253.56 163.27,253.73 163.56,253.90 163.85,254.06 164.14,254.21 164.43,254.36 164.72,254.51 165.01,254.65 165.30,254.78 165.59,254.91 165.88,255.04 166.17,255.16 166.46,255.28 166.75,255.39 167.04,255.50 167.33,255.60 167.62,255.70 167.91,255.80 168.20,255.89 168.49,255.98 168.77,256.07 169.06,256.15 169.35,256.23 169.64,256.30 169.93,256.37 170.22,256.44 170.51,256.50 170.80,256.56 171.09,256.62 171.38,256.67 171.67,256.72 171.96,256.77 172.25,256.81 172.54,256.86 172.83,256.89 173.12,256.93 173.41,256.96 173.70,256.99 173.99,257.02 174.27,257.04 174.56,257.07 174.85,257.09 175.14,257.10 175.43,257.12 175.72,257.13 176.01,257.14 176.30,257.14 176.59,257.15 176.88,257.15 177.17,257.15 177.46,257.15 177.75,257.14 178.04,257.14 178.33,257.13 178.62,257.12 178.91,257.10 179.20,257.09 179.49,257.07 179.77,257.05 180.06,257.03 180.35,257.01 180.64,256.99 180.93,256.96 181.22,256.93 181.51,256.90 181.80,256.87 182.09,256.84 182.38,256.80 182.67,256.77 182.96,256.73 183.25,256.69 183.54,256.65 183.83,256.60 184.12,256.56 184.41,256.51 184.70,256.47 184.99,256.42 185.28,256.37 185.56,256.32 185.85,256.26 186.14,256.21 186.43,256.15 186.72,256.10 187.01,256.04 187.30,255.98 187.59,255.92 187.88,255.86 188.17,255.80 188.46,255.73 188.75,255.67 189.04,255.60 189.33,255.53 189.62,255.47 189.91,255.40 190.20,255.33 190.49,255.26 190.78,255.18 191.06,255.11 191.35,255.04 191.64,254.96 191.93,254.88 192.22,254.81 192.51,254.73 192.80,254.65 193.09,254.57 193.38,254.49 193.67,254.41 193.96,254.33 194.25,254.25 194.54,254.16 194.83,254.08 195.12,253.99 195.41,253.91 195.70,253.82 195.99,253.73 196.28,253.65 196.56,253.56 196.85,253.47 197.14,253.38 197.43,253.29 197.72,253.20 198.01,253.11 198.30,253.02 198.59,252.92 198.88,252.83 199.17,252.74 200.30,252.37 201.43,251.99 202.55,251.61 203.68,251.22 204.81,250.83 205.94,250.44 207.07,250.04 208.20,249.64 209.32,249.23 210.45,248.83 211.58,248.43 212.71,248.02 213.84,247.62 214.96,247.21 216.09,246.81 217.22,246.41 218.35,246.01 219.48,245.62 220.61,245.23 221.73,244.84 222.86,244.46 223.99,244.08 225.12,243.71 226.25,243.34 227.37,242.98 228.50,242.62 229.63,242.28 230.76,241.94 231.89,241.61 233.02,241.28 234.14,240.97 235.27,240.66 236.40,240.36 237.53,240.07 238.66,239.79 239.78,239.52 240.91,239.26 242.04,239.01 243.17,238.77 244.30,238.55 245.43,238.33 246.55,238.12 247.68,237.93 248.81,237.74 249.94,237.57 251.07,237.41 252.20,237.26 253.32,237.13 254.45,237.00 255.58,236.89 256.71,236.79 257.84,236.70 258.96,236.62 260.09,236.56 261.22,236.51 262.35,236.47 263.48,236.44 264.61,236.43 265.73,236.43 266.86,236.44 267.99,236.46 269.12,236.49 270.25,236.54 271.37,236.60 272.50,236.67 273.63,236.75 274.76,236.84 275.89,236.95 277.02,237.06 278.14,237.19 279.27,237.33 280.40,237.48 281.53,237.64 282.66,237.81 283.78,237.99 284.91,238.18 286.04,238.39 287.17,238.60 288.30,238.82 289.43,239.05 290.55,239.29 291.68,239.54 292.81,239.80 293.94,240.06 295.07,240.34 296.19,240.62 297.32,240.92 298.45,241.21 299.58,241.52 300.71,241.84 301.84,242.16 302.96,242.49 304.09,242.83 305.22,243.17 306.35,243.52 307.48,243.87 308.60,244.23 309.73,244.60 310.86,244.97 311.99,245.35 313.12,245.73 314.25,246.12 315.37,246.52 316.50,246.91 317.63,247.31 318.76,247.72 319.89,248.13 321.01,248.54 322.14,248.96 323.27,249.38 324.40,249.81 325.53,250.23 326.66,250.66 327.78,251.10 328.91,251.53 330.04,251.97 331.17,252.41 332.30,252.85 333.43,253.30 334.55,253.74 335.68,254.19 336.81,254.64 337.94,255.09 339.07,255.55 340.19,256.00 341.32,256.45 342.45,256.91 343.58,257.36 344.71,257.82 345.84,258.28 346.96,258.74 348.09,259.19 349.22,259.65 350.35,260.11 351.48,260.57 352.60,261.03 353.73,261.49 354.86,261.95 355.99,262.40 357.12,262.86 358.25,263.32 359.37,263.78 360.50,264.23 361.63,264.69 362.76,265.14 363.89,265.60 365.01,266.05 366.14,266.50 367.27,266.95 368.40,267.40 369.53,267.85 370.66,268.30 371.78,268.75 372.91,269.19 374.04,269.64 375.17,270.08 376.30,270.52 377.42,270.96 378.55,271.40 379.68,271.84 380.81,272.27 381.94,272.71 383.07,273.14 384.19,273.57 385.32,274.00 386.45,274.43 387.58,274.85 388.71,275.28 389.83,275.70 390.96,276.12 392.09,276.54 393.22,276.95 394.35,277.37 395.48,277.78 396.60,278.19 397.73,278.60 398.86,279.01 399.99,279.42 401.12,279.82 402.24,280.22 403.37,280.62 404.50,281.02 405.63,281.42 406.76,281.81 407.89,282.21 409.01,282.60 410.14,282.98 411.27,283.37 412.40,283.76 413.53,284.14 414.66,284.52 415.78,284.90 416.91,285.27 418.04,285.65 419.17,286.02 420.30,286.39 421.42,286.76 422.55,287.13 423.68,287.49 424.81,287.86 425.94,288.22 427.07,288.58 428.19,288.93 429.32,289.29 430.45,289.64 431.58,289.99 432.71,290.34 433.83,290.69 434.96,291.04 436.09,291.38 437.22,291.72 438.35,292.06 439.48,292.40 440.60,292.73 441.73,293.07 442.86,293.40 443.99,293.73 445.12,294.06 446.24,294.39 447.37,294.71 448.50,295.03 449.63,295.35 450.76,295.67 451.89,295.99 453.01,296.31 454.14,296.62 455.27,296.93 456.40,297.24 457.53,297.55 458.65,297.86 459.78,298.16 460.91,298.47 462.04,298.77 463.17,299.07 464.30,299.37 465.42,299.66 466.55,299.96 467.68,300.25 468.81,300.54 469.94,300.83 471.06,301.12 472.19,301.41 473.32,301.69 474.45,301.97 475.58,302.25 476.71,302.53 477.83,302.81 478.96,303.09 480.09,303.37 481.22,303.64 482.35,303.91 483.47,304.18 484.60,304.45 485.73,304.72 486.86,304.98 487.99,305.25 489.12,305.51 490.24,305.77 491.37,306.03 492.50,306.29 493.63,306.55 494.76,306.81 495.89,307.06 497.01,307.31 498.14,307.56 499.27,307.81 500.40,308.06 501.53,308.31 502.65,308.56 503.78,308.80 504.91,309.04 506.04,309.29 507.17,309.53 508.30,309.76 509.42,310.00 510.55,310.24 511.68,310.47 512.81,310.71 513.94,310.94 515.06,311.17 516.19,311.40 517.32,311.63 518.45,311.86 519.58,312.09 520.71,312.31 521.83,312.53 522.96,312.76 524.09,312.98 525.22,313.20 526.35,313.42 527.47,313.64 528.60,313.85 529.73,314.07 530.86,314.28 531.99,314.50 533.12,314.71 534.24,314.92 535.37,315.13 536.50,315.34" fill="none" stroke="#24436E" stroke-width="3.15" stroke-linejoin="round" stroke-linecap="round"/><polyline points="54.72,391.70 55.01,391.70 55.30,391.70 55.59,391.70 55.88,391.70 56.17,391.70 56.46,391.70 56.75,391.70 57.04,391.70 57.33,391.70 57.62,391.70 57.90,391.70 58.19,391.70 58.48,391.70 58.77,391.69 59.06,391.69 59.35,391.69 59.64,391.69 59.93,391.69 60.22,391.69 60.51,391.68 60.80,391.68 61.09,391.68 61.38,391.68 61.67,391.67 61.96,391.67 62.25,391.67 62.54,391.66 62.83,391.66 63.12,391.65 63.40,391.65 63.69,391.64 63.98,391.64 64.27,391.63 64.56,391.62 64.85,391.62 65.14,391.61 65.43,391.60 65.72,391.59 66.01,391.58 66.30,391.57 66.59,391.56 66.88,391.55 67.17,391.54 67.46,391.53 67.75,391.52 68.04,391.51 68.33,391.49 68.62,391.48 68.90,391.46 69.19,391.45 69.48,391.43 69.77,391.42 70.06,391.40 70.35,391.38 70.64,391.36 70.93,391.35 71.22,391.33 71.51,391.31 71.80,391.28 72.09,391.26 72.38,391.24 72.67,391.21 72.96,391.19 73.25,391.16 73.54,391.14 73.83,391.11 74.12,391.08 74.40,391.05 74.69,391.02 74.98,390.99 75.27,390.96 75.56,390.92 75.85,390.89 76.14,390.85 76.43,390.82 76.72,390.78 77.01,390.74 77.30,390.70 77.59,390.66 77.88,390.62 78.17,390.57 78.46,390.53 78.75,390.48 79.04,390.43 79.33,390.38 79.62,390.33 79.91,390.28 80.19,390.22 80.48,390.17 80.77,390.11 81.06,390.05 81.35,389.99 81.64,389.93 81.93,389.87 82.22,389.80 82.51,389.74 82.80,389.67 83.09,389.60 83.38,389.52 83.67,389.45 83.96,389.37 84.25,389.29 84.54,389.21 84.83,389.13 85.12,389.05 85.41,388.96 85.69,388.87 85.98,388.78 86.27,388.68 86.56,388.59 86.85,388.49 87.14,388.39 87.43,388.28 87.72,388.18 88.01,388.07 88.30,387.96 88.59,387.84 88.88,387.72 89.17,387.60 89.46,387.48 89.75,387.35 90.04,387.22 90.33,387.09 90.62,386.95 90.91,386.81 91.19,386.67 91.48,386.53 91.77,386.37 92.06,386.22 92.35,386.06 92.64,385.90 92.93,385.74 93.22,385.57 93.51,385.39 93.80,385.21 94.09,385.03 94.38,384.84 94.67,384.65 94.96,384.46 95.25,384.26 95.54,384.05 95.83,383.84 96.12,383.62 96.41,383.40 96.69,383.17 96.98,382.94 97.27,382.70 97.56,382.46 97.85,382.20 98.14,381.95 98.43,381.68 98.72,381.41 99.01,381.14 99.30,380.85 99.59,380.56 99.88,380.26 100.17,379.96 100.46,379.64 100.75,379.32 101.04,378.99 101.33,378.65 101.62,378.30 101.91,377.94 102.19,377.58 102.48,377.20 102.77,376.82 103.06,376.42 103.35,376.01 103.64,375.60 103.93,375.17 104.22,374.73 104.51,374.28 104.80,373.81 105.09,373.34 105.38,372.85 105.67,372.34 105.96,371.83 106.25,371.29 106.54,370.75 106.83,370.19 107.12,369.61 107.41,369.02 107.69,368.41 107.98,367.78 108.27,367.13 108.56,366.47 108.85,365.78 109.14,365.08 109.43,364.35 109.72,363.61 110.01,362.84 110.30,362.05 110.59,361.23 110.88,360.39 111.17,359.52 111.46,358.63 111.75,357.71 112.04,356.76 112.33,355.78 112.62,354.77 112.91,353.73 113.20,352.66 113.48,351.55 113.77,350.41 114.06,349.22 114.35,348.00 114.64,346.74 114.93,345.44 115.22,344.10 115.51,342.71 115.80,341.27 116.09,339.79 116.38,338.26 116.67,336.68 116.96,335.04 117.25,333.35 117.54,331.60 117.83,329.79 118.12,327.93 118.41,326.00 118.70,324.00 118.98,321.95 119.27,319.82 119.56,317.63 119.85,315.36 120.14,313.02 120.43,310.61 120.72,308.13 121.01,305.58 121.30,302.95 121.59,300.25 121.88,297.47 122.17,294.63 122.46,291.72 122.75,288.75 123.04,285.71 123.33,282.62 123.62,279.48 123.91,276.30 124.20,273.08 124.48,269.84 124.77,266.60 125.06,263.35 125.35,260.11 125.64,256.91 125.93,253.75 126.22,250.66 126.51,247.65 126.80,244.73 127.09,241.94 127.38,239.28 127.67,236.78 127.96,234.44 128.25,232.29 128.54,230.34 128.83,228.59 129.12,227.05 129.41,225.74 129.70,224.65 129.98,223.78 130.27,223.12 130.56,222.68 130.85,222.45 131.14,222.40 131.43,222.55 131.72,222.86 132.01,223.33 132.30,223.95 132.59,224.69 132.88,225.55 133.17,226.52 133.46,227.57 133.75,228.70 134.04,229.89 134.33,231.14 134.62,232.43 134.91,233.76 135.20,235.11 135.48,236.48 135.77,237.86 136.06,239.24 136.35,240.63 136.64,242.01 136.93,243.38 137.22,244.74 137.51,246.08 137.80,247.41 138.09,248.72 138.38,250.00 138.67,251.26 138.96,252.50 139.25,253.71 139.54,254.90 139.83,256.06 140.12,257.19 140.41,258.30 140.70,259.38 140.98,260.43 141.27,261.46 141.56,262.46 141.85,263.44 142.14,264.39 142.43,265.31 142.72,266.21 143.01,267.08 143.30,267.93 143.59,268.76 143.88,269.56 144.17,270.35 144.46,271.11 144.75,271.84 145.04,272.56 145.33,273.26 145.62,273.94 145.91,274.59 146.20,275.23 146.49,275.85 146.77,276.46 147.06,277.04 147.35,277.61 147.64,278.16 147.93,278.70 148.22,279.22 148.51,279.72 148.80,280.21 149.09,280.69 149.38,281.15 149.67,281.60 149.96,282.04 150.25,282.46 150.54,282.87 150.83,283.27 151.12,283.65 151.41,284.02 151.70,284.39 151.99,284.74 152.27,285.08 152.56,285.41 152.85,285.73 153.14,286.04 153.43,286.34 153.72,286.63 154.01,286.92 154.30,287.19 154.59,287.45 154.88,287.71 155.17,287.96 155.46,288.20 155.75,288.43 156.04,288.65 156.33,288.87 156.62,289.08 156.91,289.28 157.20,289.47 157.49,289.66 157.77,289.84 158.06,290.02 158.35,290.19 158.64,290.35 158.93,290.51 159.22,290.66 159.51,290.80 159.80,290.94 160.09,291.07 160.38,291.20 160.67,291.32 160.96,291.44 161.25,291.55 161.54,291.66 161.83,291.76 162.12,291.85 162.41,291.95 162.70,292.03 162.99,292.12 163.27,292.19 163.56,292.27 163.85,292.34 164.14,292.40 164.43,292.47 164.72,292.52 165.01,292.58 165.30,292.63 165.59,292.67 165.88,292.71 166.17,292.75 166.46,292.79 166.75,292.82 167.04,292.85 167.33,292.87 167.62,292.89 167.91,292.91 168.20,292.92 168.49,292.93 168.77,292.94 169.06,292.95 169.35,292.95 169.64,292.95 169.93,292.94 170.22,292.94 170.51,292.93 170.80,292.91 171.09,292.90 171.38,292.88 171.67,292.86 171.96,292.83 172.25,292.81 172.54,292.78 172.83,292.75 173.12,292.72 173.41,292.68 173.70,292.64 173.99,292.60 174.27,292.56 174.56,292.51 174.85,292.46 175.14,292.41 175.43,292.36 175.72,292.31 176.01,292.25 176.30,292.19 176.59,292.13 176.88,292.07 177.17,292.00 177.46,291.94 177.75,291.87 178.04,291.80 178.33,291.72 178.62,291.65 178.91,291.57 179.20,291.50 179.49,291.42 179.77,291.33 180.06,291.25 180.35,291.16 180.64,291.08 180.93,290.99 181.22,290.90 181.51,290.81 181.80,290.71 182.09,290.62 182.38,290.52 182.67,290.42 182.96,290.32 183.25,290.22 183.54,290.11 183.83,290.01 184.12,289.90 184.41,289.79 184.70,289.68 184.99,289.57 185.28,289.46 185.56,289.35 185.85,289.23 186.14,289.12 186.43,289.00 186.72,288.88 187.01,288.76 187.30,288.64 187.59,288.51 187.88,288.39 188.17,288.26 188.46,288.13 188.75,288.01 189.04,287.88 189.33,287.74 189.62,287.61 189.91,287.48 190.20,287.34 190.49,287.21 190.78,287.07 191.06,286.93 191.35,286.79 191.64,286.65 191.93,286.51 192.22,286.37 192.51,286.22 192.80,286.08 193.09,285.93 193.38,285.79 193.67,285.64 193.96,285.49 194.25,285.34 194.54,285.19 194.83,285.04 195.12,284.88 195.41,284.73 195.70,284.57 195.99,284.42 196.28,284.26 196.56,284.10 196.85,283.94 197.14,283.78 197.43,283.62 197.72,283.46 198.01,283.30 198.30,283.13 198.59,282.97 198.88,282.80 199.17,282.64 200.30,281.98 201.43,281.31 202.55,280.63 203.68,279.94 204.81,279.23 205.94,278.52 207.07,277.79 208.20,277.06 209.32,276.32 210.45,275.57 211.58,274.81 212.71,274.04 213.84,273.27 214.96,272.49 216.09,271.71 217.22,270.92 218.35,270.12 219.48,269.33 220.61,268.52 221.73,267.72 222.86,266.91 223.99,266.10 225.12,265.29 226.25,264.48 227.37,263.67 228.50,262.86 229.63,262.06 230.76,261.25 231.89,260.45 233.02,259.65 234.14,258.86 235.27,258.07 236.40,257.28 237.53,256.51 238.66,255.74 239.78,254.97 240.91,254.22 242.04,253.48 243.17,252.74 244.30,252.02 245.43,251.31 246.55,250.61 247.68,249.93 248.81,249.26 249.94,248.60 251.07,247.96 252.20,247.34 253.32,246.73 254.45,246.14 255.58,245.57 256.71,245.02 257.84,244.49 258.96,243.98 260.09,243.49 261.22,243.02 262.35,242.57 263.48,242.15 264.61,241.75 265.73,241.37 266.86,241.01 267.99,240.68 269.12,240.38 270.25,240.10 271.37,239.84 272.50,239.61 273.63,239.41 274.76,239.23 275.89,239.08 277.02,238.95 278.14,238.85 279.27,238.78 280.40,238.73 281.53,238.71 282.66,238.71 283.78,238.74 284.91,238.79 286.04,238.87 287.17,238.97 288.30,239.09 289.43,239.24 290.55,239.42 291.68,239.62 292.81,239.84 293.94,240.08 295.07,240.34 296.19,240.63 297.32,240.93 298.45,241.26 299.58,241.60 300.71,241.97 301.84,242.35 302.96,242.75 304.09,243.16 305.22,243.60 306.35,244.05 307.48,244.51 308.60,244.99 309.73,245.49 310.86,245.99 311.99,246.51 313.12,247.05 314.25,247.59 315.37,248.14 316.50,248.71 317.63,249.28 318.76,249.87 319.89,250.46 321.01,251.06 322.14,251.67 323.27,252.29 324.40,252.91 325.53,253.54 326.66,254.17 327.78,254.81 328.91,255.45 330.04,256.10 331.17,256.75 332.30,257.40 333.43,258.06 334.55,258.72 335.68,259.38 336.81,260.05 337.94,260.71 339.07,261.38 340.19,262.05 341.32,262.71 342.45,263.38 343.58,264.05 344.71,264.72 345.84,265.38 346.96,266.05 348.09,266.71 349.22,267.37 350.35,268.04 351.48,268.69 352.60,269.35 353.73,270.01 354.86,270.66 355.99,271.31 357.12,271.96 358.25,272.61 359.37,273.25 360.50,273.89 361.63,274.52 362.76,275.16 363.89,275.79 365.01,276.41 366.14,277.03 367.27,277.65 368.40,278.27 369.53,278.88 370.66,279.49 371.78,280.09 372.91,280.69 374.04,281.29 375.17,281.88 376.30,282.47 377.42,283.05 378.55,283.63 379.68,284.21 380.81,284.78 381.94,285.35 383.07,285.91 384.19,286.47 385.32,287.02 386.45,287.57 387.58,288.12 388.71,288.66 389.83,289.20 390.96,289.73 392.09,290.26 393.22,290.79 394.35,291.31 395.48,291.82 396.60,292.34 397.73,292.84 398.86,293.35 399.99,293.85 401.12,294.34 402.24,294.83 403.37,295.32 404.50,295.81 405.63,296.28 406.76,296.76 407.89,297.23 409.01,297.70 410.14,298.16 411.27,298.62 412.40,299.08 413.53,299.53 414.66,299.98 415.78,300.42 416.91,300.86 418.04,301.30 419.17,301.73 420.30,302.16 421.42,302.59 422.55,303.01 423.68,303.43 424.81,303.84 425.94,304.26 427.07,304.66 428.19,305.07 429.32,305.47 430.45,305.87 431.58,306.26 432.71,306.65 433.83,307.04 434.96,307.42 436.09,307.81 437.22,308.18 438.35,308.56 439.48,308.93 440.60,309.30 441.73,309.66 442.86,310.03 443.99,310.39 445.12,310.74 446.24,311.10 447.37,311.45 448.50,311.79 449.63,312.14 450.76,312.48 451.89,312.82 453.01,313.15 454.14,313.49 455.27,313.82 456.40,314.15 457.53,314.47 458.65,314.80 459.78,315.12 460.91,315.43 462.04,315.75 463.17,316.06 464.30,316.37 465.42,316.68 466.55,316.98 467.68,317.29 468.81,317.59 469.94,317.88 471.06,318.18 472.19,318.47 473.32,318.76 474.45,319.05 475.58,319.34 476.71,319.62 477.83,319.90 478.96,320.18 480.09,320.46 481.22,320.73 482.35,321.01 483.47,321.28 484.60,321.55 485.73,321.81 486.86,322.08 487.99,322.34 489.12,322.60 490.24,322.86 491.37,323.12 492.50,323.37 493.63,323.63 494.76,323.88 495.89,324.13 497.01,324.38 498.14,324.62 499.27,324.86 500.40,325.11 501.53,325.35 502.65,325.59 503.78,325.82 504.91,326.06 506.04,326.29 507.17,326.52 508.30,326.75 509.42,326.98 510.55,327.21 511.68,327.43 512.81,327.66 513.94,327.88 515.06,328.10 516.19,328.32 517.32,328.53 518.45,328.75 519.58,328.96 520.71,329.18 521.83,329.39 522.96,329.60 524.09,329.81 525.22,330.01 526.35,330.22 527.47,330.42 528.60,330.62 529.73,330.83 530.86,331.03 531.99,331.22 533.12,331.42 534.24,331.62 535.37,331.81 536.50,332.00" fill="none" stroke="#E8A838" stroke-width="3.15" stroke-linejoin="round" stroke-linecap="round"/><polyline points="54.72,391.70 55.01,391.70 55.30,391.70 55.59,391.70 55.88,391.70 56.17,391.70 56.46,391.70 56.75,391.70 57.04,391.70 57.33,391.70 57.62,391.70 57.90,391.70 58.19,391.70 58.48,391.70 58.77,391.70 59.06,391.69 59.35,391.69 59.64,391.69 59.93,391.69 60.22,391.69 60.51,391.69 60.80,391.68 61.09,391.68 61.38,391.68 61.67,391.68 61.96,391.67 62.25,391.67 62.54,391.67 62.83,391.66 63.12,391.66 63.40,391.65 63.69,391.65 63.98,391.64 64.27,391.64 64.56,391.63 64.85,391.63 65.14,391.62 65.43,391.61 65.72,391.60 66.01,391.60 66.30,391.59 66.59,391.58 66.88,391.57 67.17,391.56 67.46,391.55 67.75,391.54 68.04,391.53 68.33,391.52 68.62,391.51 68.90,391.49 69.19,391.48 69.48,391.47 69.77,391.45 70.06,391.44 70.35,391.42 70.64,391.41 70.93,391.39 71.22,391.37 71.51,391.35 71.80,391.34 72.09,391.32 72.38,391.30 72.67,391.27 72.96,391.25 73.25,391.23 73.54,391.21 73.83,391.18 74.12,391.16 74.40,391.13 74.69,391.11 74.98,391.08 75.27,391.05 75.56,391.02 75.85,390.99 76.14,390.96 76.43,390.93 76.72,390.89 77.01,390.86 77.30,390.82 77.59,390.79 77.88,390.75 78.17,390.71 78.46,390.67 78.75,390.63 79.04,390.59 79.33,390.54 79.62,390.50 79.91,390.45 80.19,390.40 80.48,390.36 80.77,390.31 81.06,390.25 81.35,390.20 81.64,390.15 81.93,390.09 82.22,390.03 82.51,389.97 82.80,389.91 83.09,389.85 83.38,389.79 83.67,389.72 83.96,389.65 84.25,389.59 84.54,389.51 84.83,389.44 85.12,389.37 85.41,389.29 85.69,389.21 85.98,389.13 86.27,389.05 86.56,388.96 86.85,388.88 87.14,388.79 87.43,388.69 87.72,388.60 88.01,388.50 88.30,388.40 88.59,388.30 88.88,388.20 89.17,388.09 89.46,387.98 89.75,387.87 90.04,387.76 90.33,387.64 90.62,387.52 90.91,387.39 91.19,387.27 91.48,387.14 91.77,387.00 92.06,386.87 92.35,386.73 92.64,386.59 92.93,386.44 93.22,386.29 93.51,386.13 93.80,385.98 94.09,385.81 94.38,385.65 94.67,385.48 94.96,385.30 95.25,385.12 95.54,384.94 95.83,384.75 96.12,384.56 96.41,384.36 96.69,384.16 96.98,383.95 97.27,383.74 97.56,383.52 97.85,383.29 98.14,383.06 98.43,382.83 98.72,382.59 99.01,382.34 99.30,382.08 99.59,381.82 99.88,381.56 100.17,381.28 100.46,381.00 100.75,380.71 101.04,380.41 101.33,380.11 101.62,379.79 101.91,379.47 102.19,379.14 102.48,378.81 102.77,378.46 103.06,378.10 103.35,377.73 103.64,377.36 103.93,376.97 104.22,376.57 104.51,376.16 104.80,375.74 105.09,375.31 105.38,374.87 105.67,374.41 105.96,373.94 106.25,373.45 106.54,372.96 106.83,372.45 107.12,371.92 107.41,371.38 107.69,370.82 107.98,370.24 108.27,369.65 108.56,369.04 108.85,368.41 109.14,367.76 109.43,367.09 109.72,366.41 110.01,365.70 110.30,364.96 110.59,364.21 110.88,363.43 111.17,362.62 111.46,361.79 111.75,360.93 112.04,360.05 112.33,359.13 112.62,358.18 112.91,357.21 113.20,356.19 113.48,355.15 113.77,354.06 114.06,352.94 114.35,351.79 114.64,350.59 114.93,349.34 115.22,348.06 115.51,346.72 115.80,345.34 116.09,343.91 116.38,342.43 116.67,340.89 116.96,339.30 117.25,337.64 117.54,335.93 117.83,334.15 118.12,332.30 118.41,330.39 118.70,328.41 118.98,326.35 119.27,324.21 119.56,322.00 119.85,319.70 120.14,317.32 120.43,314.86 120.72,312.31 121.01,309.67 121.30,306.95 121.59,304.13 121.88,301.23 122.17,298.23 122.46,295.16 122.75,292.00 123.04,288.76 123.33,285.45 123.62,282.07 123.91,278.65 124.20,275.17 124.48,271.67 124.77,268.15 125.06,264.63 125.35,261.13 125.64,257.68 125.93,254.30 126.22,251.01 126.51,247.83 126.80,244.81 127.09,241.95 127.38,239.29 127.67,236.85 127.96,234.64 128.25,232.70 128.54,231.02 128.83,229.63 129.12,228.52 129.41,227.69 129.70,227.14 129.98,226.86 130.27,226.84 130.56,227.06 130.85,227.51 131.14,228.16 131.43,229.00 131.72,230.00 132.01,231.14 132.30,232.41 132.59,233.79 132.88,235.25 133.17,236.78 133.46,238.36 133.75,239.98 134.04,241.63 134.33,243.30 134.62,244.98 134.91,246.65 135.20,248.32 135.48,249.98 135.77,251.61 136.06,253.22 136.35,254.81 136.64,256.37 136.93,257.89 137.22,259.38 137.51,260.84 137.80,262.26 138.09,263.65 138.38,264.99 138.67,266.31 138.96,267.58 139.25,268.82 139.54,270.03 139.83,271.20 140.12,272.33 140.41,273.43 140.70,274.50 140.98,275.54 141.27,276.54 141.56,277.51 141.85,278.46 142.14,279.37 142.43,280.26 142.72,281.11 143.01,281.95 143.30,282.75 143.59,283.53 143.88,284.29 144.17,285.02 144.46,285.73 144.75,286.42 145.04,287.09 145.33,287.73 145.62,288.36 145.91,288.96 146.20,289.55 146.49,290.12 146.77,290.67 147.06,291.20 147.35,291.72 147.64,292.22 147.93,292.71 148.22,293.18 148.51,293.63 148.80,294.08 149.09,294.50 149.38,294.92 149.67,295.32 149.96,295.71 150.25,296.09 150.54,296.45 150.83,296.80 151.12,297.14 151.41,297.48 151.70,297.80 151.99,298.11 152.27,298.41 152.56,298.70 152.85,298.98 153.14,299.25 153.43,299.51 153.72,299.76 154.01,300.01 154.30,300.25 154.59,300.48 154.88,300.70 155.17,300.91 155.46,301.12 155.75,301.32 156.04,301.51 156.33,301.69 156.62,301.87 156.91,302.04 157.20,302.21 157.49,302.37 157.77,302.52 158.06,302.67 158.35,302.81 158.64,302.94 158.93,303.07 159.22,303.20 159.51,303.32 159.80,303.43 160.09,303.54 160.38,303.64 160.67,303.74 160.96,303.83 161.25,303.92 161.54,304.01 161.83,304.09 162.12,304.16 162.41,304.23 162.70,304.30 162.99,304.37 163.27,304.42 163.56,304.48 163.85,304.53 164.14,304.58 164.43,304.62 164.72,304.66 165.01,304.70 165.30,304.73 165.59,304.76 165.88,304.79 166.17,304.81 166.46,304.83 166.75,304.84 167.04,304.86 167.33,304.87 167.62,304.87 167.91,304.88 168.20,304.88 168.49,304.87 168.77,304.87 169.06,304.86 169.35,304.85 169.64,304.84 169.93,304.82 170.22,304.80 170.51,304.78 170.80,304.76 171.09,304.73 171.38,304.70 171.67,304.67 171.96,304.64 172.25,304.60 172.54,304.56 172.83,304.52 173.12,304.48 173.41,304.43 173.70,304.38 173.99,304.33 174.27,304.28 174.56,304.23 174.85,304.17 175.14,304.11 175.43,304.05 175.72,303.99 176.01,303.92 176.30,303.86 176.59,303.79 176.88,303.72 177.17,303.64 177.46,303.57 177.75,303.49 178.04,303.41 178.33,303.33 178.62,303.25 178.91,303.17 179.20,303.08 179.49,303.00 179.77,302.91 180.06,302.82 180.35,302.73 180.64,302.63 180.93,302.54 181.22,302.44 181.51,302.34 181.80,302.24 182.09,302.14 182.38,302.04 182.67,301.93 182.96,301.82 183.25,301.72 183.54,301.61 183.83,301.49 184.12,301.38 184.41,301.27 184.70,301.15 184.99,301.04 185.28,300.92 185.56,300.80 185.85,300.68 186.14,300.55 186.43,300.43 186.72,300.30 187.01,300.18 187.30,300.05 187.59,299.92 187.88,299.79 188.17,299.66 188.46,299.52 188.75,299.39 189.04,299.25 189.33,299.12 189.62,298.98 189.91,298.84 190.20,298.70 190.49,298.55 190.78,298.41 191.06,298.27 191.35,298.12 191.64,297.97 191.93,297.82 192.22,297.68 192.51,297.52 192.80,297.37 193.09,297.22 193.38,297.07 193.67,296.91 193.96,296.75 194.25,296.60 194.54,296.44 194.83,296.28 195.12,296.12 195.41,295.96 195.70,295.79 195.99,295.63 196.28,295.46 196.56,295.30 196.85,295.13 197.14,294.96 197.43,294.79 197.72,294.62 198.01,294.45 198.30,294.28 198.59,294.11 198.88,293.93 199.17,293.76 200.30,293.06 201.43,292.36 202.55,291.64 203.68,290.90 204.81,290.15 205.94,289.39 207.07,288.61 208.20,287.83 209.32,287.03 210.45,286.21 211.58,285.39 212.71,284.56 213.84,283.71 214.96,282.86 216.09,282.00 217.22,281.12 218.35,280.24 219.48,279.35 220.61,278.45 221.73,277.55 222.86,276.63 223.99,275.71 225.12,274.79 226.25,273.86 227.37,272.92 228.50,271.99 229.63,271.04 230.76,270.10 231.89,269.15 233.02,268.20 234.14,267.26 235.27,266.31 236.40,265.36 237.53,264.41 238.66,263.47 239.78,262.53 240.91,261.60 242.04,260.67 243.17,259.75 244.30,258.83 245.43,257.93 246.55,257.03 247.68,256.14 248.81,255.27 249.94,254.40 251.07,253.55 252.20,252.72 253.32,251.90 254.45,251.10 255.58,250.31 256.71,249.55 257.84,248.80 258.96,248.08 260.09,247.37 261.22,246.69 262.35,246.04 263.48,245.41 264.61,244.80 265.73,244.23 266.86,243.68 267.99,243.16 269.12,242.66 270.25,242.20 271.37,241.77 272.50,241.37 273.63,241.01 274.76,240.67 275.89,240.37 277.02,240.10 278.14,239.86 279.27,239.66 280.40,239.49 281.53,239.36 282.66,239.26 283.78,239.19 284.91,239.16 286.04,239.16 287.17,239.20 288.30,239.27 289.43,239.37 290.55,239.50 291.68,239.66 292.81,239.86 293.94,240.09 295.07,240.34 296.19,240.63 297.32,240.94 298.45,241.28 299.58,241.65 300.71,242.04 301.84,242.46 302.96,242.91 304.09,243.38 305.22,243.87 306.35,244.38 307.48,244.91 308.60,245.46 309.73,246.03 310.86,246.62 311.99,247.23 313.12,247.85 314.25,248.48 315.37,249.13 316.50,249.80 317.63,250.47 318.76,251.16 319.89,251.86 321.01,252.57 322.14,253.29 323.27,254.01 324.40,254.75 325.53,255.49 326.66,256.23 327.78,256.98 328.91,257.74 330.04,258.50 331.17,259.27 332.30,260.03 333.43,260.80 334.55,261.57 335.68,262.35 336.81,263.12 337.94,263.89 339.07,264.67 340.19,265.44 341.32,266.21 342.45,266.98 343.58,267.75 344.71,268.52 345.84,269.28 346.96,270.05 348.09,270.81 349.22,271.56 350.35,272.32 351.48,273.07 352.60,273.81 353.73,274.55 354.86,275.29 355.99,276.02 357.12,276.75 358.25,277.48 359.37,278.20 360.50,278.91 361.63,279.62 362.76,280.33 363.89,281.02 365.01,281.72 366.14,282.41 367.27,283.09 368.40,283.77 369.53,284.44 370.66,285.11 371.78,285.77 372.91,286.42 374.04,287.07 375.17,287.72 376.30,288.35 377.42,288.99 378.55,289.61 379.68,290.24 380.81,290.85 381.94,291.46 383.07,292.06 384.19,292.66 385.32,293.26 386.45,293.84 387.58,294.43 388.71,295.00 389.83,295.57 390.96,296.14 392.09,296.70 393.22,297.25 394.35,297.80 395.48,298.34 396.60,298.88 397.73,299.41 398.86,299.94 399.99,300.46 401.12,300.98 402.24,301.49 403.37,302.00 404.50,302.50 405.63,303.00 406.76,303.49 407.89,303.98 409.01,304.46 410.14,304.94 411.27,305.41 412.40,305.88 413.53,306.35 414.66,306.80 415.78,307.26 416.91,307.71 418.04,308.16 419.17,308.60 420.30,309.03 421.42,309.47 422.55,309.90 423.68,310.32 424.81,310.74 425.94,311.16 427.07,311.57 428.19,311.98 429.32,312.38 430.45,312.78 431.58,313.18 432.71,313.57 433.83,313.96 434.96,314.34 436.09,314.73 437.22,315.10 438.35,315.48 439.48,315.85 440.60,316.22 441.73,316.58 442.86,316.94 443.99,317.30 445.12,317.65 446.24,318.00 447.37,318.35 448.50,318.69 449.63,319.03 450.76,319.37 451.89,319.71 453.01,320.04 454.14,320.37 455.27,320.69 456.40,321.01 457.53,321.33 458.65,321.65 459.78,321.96 460.91,322.27 462.04,322.58 463.17,322.89 464.30,323.19 465.42,323.49 466.55,323.79 467.68,324.08 468.81,324.37 469.94,324.66 471.06,324.95 472.19,325.24 473.32,325.52 474.45,325.80 475.58,326.08 476.71,326.35 477.83,326.62 478.96,326.89 480.09,327.16 481.22,327.43 482.35,327.69 483.47,327.95 484.60,328.21 485.73,328.47 486.86,328.72 487.99,328.98 489.12,329.23 490.24,329.48 491.37,329.72 492.50,329.97 493.63,330.21 494.76,330.45 495.89,330.69 497.01,330.93 498.14,331.16 499.27,331.39 500.40,331.62 501.53,331.85 502.65,332.08 503.78,332.31 504.91,332.53 506.04,332.75 507.17,332.97 508.30,333.19 509.42,333.41 510.55,333.63 511.68,333.84 512.81,334.05 513.94,334.26 515.06,334.47 516.19,334.68 517.32,334.88 518.45,335.09 519.58,335.29 520.71,335.49 521.83,335.69 522.96,335.89 524.09,336.09 525.22,336.28 526.35,336.48 527.47,336.67 528.60,336.86 529.73,337.05 530.86,337.24 531.99,337.42 533.12,337.61 534.24,337.79 535.37,337.98 536.50,338.16" fill="none" stroke="#C0443C" stroke-width="3.15" stroke-linejoin="round" stroke-linecap="round"/><polyline points="54.72,391.70 55.01,391.70 55.30,391.70 55.59,391.70 55.88,391.70 56.17,391.70 56.46,391.70 56.75,391.70 57.04,391.70 57.33,391.70 57.62,391.70 57.90,391.70 58.19,391.70 58.48,391.70 58.77,391.70 59.06,391.70 59.35,391.69 59.64,391.69 59.93,391.69 60.22,391.69 60.51,391.69 60.80,391.69 61.09,391.69 61.38,391.68 61.67,391.68 61.96,391.68 62.25,391.68 62.54,391.67 62.83,391.67 63.12,391.67 63.40,391.66 63.69,391.66 63.98,391.65 64.27,391.65 64.56,391.65 64.85,391.64 65.14,391.64 65.43,391.63 65.72,391.62 66.01,391.62 66.30,391.61 66.59,391.60 66.88,391.60 67.17,391.59 67.46,391.58 67.75,391.57 68.04,391.56 68.33,391.55 68.62,391.55 68.90,391.54 69.19,391.52 69.48,391.51 69.77,391.50 70.06,391.49 70.35,391.48 70.64,391.46 70.93,391.45 71.22,391.44 71.51,391.42 71.80,391.41 72.09,391.39 72.38,391.38 72.67,391.36 72.96,391.34 73.25,391.32 73.54,391.31 73.83,391.29 74.12,391.27 74.40,391.24 74.69,391.22 74.98,391.20 75.27,391.18 75.56,391.15 75.85,391.13 76.14,391.11 76.43,391.08 76.72,391.05 77.01,391.02 77.30,391.00 77.59,390.97 77.88,390.94 78.17,390.91 78.46,390.87 78.75,390.84 79.04,390.81 79.33,390.77 79.62,390.74 79.91,390.70 80.19,390.66 80.48,390.62 80.77,390.58 81.06,390.54 81.35,390.50 81.64,390.45 81.93,390.41 82.22,390.36 82.51,390.31 82.80,390.26 83.09,390.21 83.38,390.16 83.67,390.11 83.96,390.06 84.25,390.00 84.54,389.94 84.83,389.88 85.12,389.82 85.41,389.76 85.69,389.70 85.98,389.63 86.27,389.57 86.56,389.50 86.85,389.43 87.14,389.35 87.43,389.28 87.72,389.20 88.01,389.13 88.30,389.05 88.59,388.96 88.88,388.88 89.17,388.79 89.46,388.70 89.75,388.61 90.04,388.52 90.33,388.42 90.62,388.33 90.91,388.23 91.19,388.12 91.48,388.02 91.77,387.91 92.06,387.80 92.35,387.69 92.64,387.57 92.93,387.45 93.22,387.33 93.51,387.20 93.80,387.07 94.09,386.94 94.38,386.80 94.67,386.66 94.96,386.52 95.25,386.38 95.54,386.23 95.83,386.07 96.12,385.91 96.41,385.75 96.69,385.59 96.98,385.42 97.27,385.24 97.56,385.06 97.85,384.88 98.14,384.69 98.43,384.50 98.72,384.30 99.01,384.09 99.30,383.89 99.59,383.67 99.88,383.45 100.17,383.22 100.46,382.99 100.75,382.75 101.04,382.51 101.33,382.26 101.62,382.00 101.91,381.73 102.19,381.46 102.48,381.18 102.77,380.89 103.06,380.59 103.35,380.29 103.64,379.97 103.93,379.65 104.22,379.32 104.51,378.98 104.80,378.63 105.09,378.26 105.38,377.89 105.67,377.51 105.96,377.11 106.25,376.71 106.54,376.29 106.83,375.86 107.12,375.41 107.41,374.96 107.69,374.48 107.98,374.00 108.27,373.49 108.56,372.97 108.85,372.44 109.14,371.89 109.43,371.32 109.72,370.73 110.01,370.12 110.30,369.49 110.59,368.84 110.88,368.16 111.17,367.47 111.46,366.75 111.75,366.00 112.04,365.23 112.33,364.43 112.62,363.60 112.91,362.74 113.20,361.85 113.48,360.93 113.77,359.97 114.06,358.97 114.35,357.94 114.64,356.86 114.93,355.75 115.22,354.58 115.51,353.38 115.80,352.12 116.09,350.81 116.38,349.45 116.67,348.03 116.96,346.55 117.25,345.01 117.54,343.40 117.83,341.72 118.12,339.97 118.41,338.14 118.70,336.23 118.98,334.23 119.27,332.15 119.56,329.97 119.85,327.69 120.14,325.31 120.43,322.83 120.72,320.23 121.01,317.52 121.30,314.70 121.59,311.74 121.88,308.67 122.17,305.47 122.46,302.15 122.75,298.70 123.04,295.12 123.33,291.43 123.62,287.64 123.91,283.74 124.20,279.77 124.48,275.73 124.77,271.65 125.06,267.56 125.35,263.49 125.64,259.48 125.93,255.58 126.22,251.83 126.51,248.28 126.80,244.98 127.09,241.97 127.38,239.30 127.67,237.01 127.96,235.13 128.25,233.67 128.54,232.64 128.83,232.05 129.12,231.88 129.41,232.10 129.70,232.70 129.98,233.62 130.27,234.85 130.56,236.32 130.85,238.02 131.14,239.89 131.43,241.89 131.72,244.01 132.01,246.19 132.30,248.43 132.59,250.70 132.88,252.97 133.17,255.23 133.46,257.47 133.75,259.68 134.04,261.85 134.33,263.97 134.62,266.04 134.91,268.05 135.20,270.00 135.48,271.89 135.77,273.72 136.06,275.50 136.35,277.21 136.64,278.86 136.93,280.45 137.22,281.98 137.51,283.46 137.80,284.89 138.09,286.26 138.38,287.58 138.67,288.86 138.96,290.08 139.25,291.27 139.54,292.40 139.83,293.50 140.12,294.55 140.41,295.57 140.70,296.55 140.98,297.49 141.27,298.40 141.56,299.28 141.85,300.12 142.14,300.94 142.43,301.72 142.72,302.48 143.01,303.21 143.30,303.92 143.59,304.60 143.88,305.25 144.17,305.89 144.46,306.50 144.75,307.09 145.04,307.66 145.33,308.21 145.62,308.74 145.91,309.26 146.20,309.75 146.49,310.23 146.77,310.70 147.06,311.14 147.35,311.58 147.64,311.99 147.93,312.40 148.22,312.79 148.51,313.17 148.80,313.53 149.09,313.88 149.38,314.23 149.67,314.56 149.96,314.87 150.25,315.18 150.54,315.48 150.83,315.77 151.12,316.04 151.41,316.31 151.70,316.57 151.99,316.82 152.27,317.06 152.56,317.30 152.85,317.52 153.14,317.74 153.43,317.95 153.72,318.15 154.01,318.35 154.30,318.53 154.59,318.71 154.88,318.89 155.17,319.06 155.46,319.22 155.75,319.37 156.04,319.52 156.33,319.67 156.62,319.80 156.91,319.94 157.20,320.06 157.49,320.19 157.77,320.30 158.06,320.41 158.35,320.52 158.64,320.62 158.93,320.72 159.22,320.81 159.51,320.90 159.80,320.98 160.09,321.06 160.38,321.14 160.67,321.21 160.96,321.28 161.25,321.34 161.54,321.40 161.83,321.46 162.12,321.51 162.41,321.56 162.70,321.60 162.99,321.64 163.27,321.68 163.56,321.72 163.85,321.75 164.14,321.78 164.43,321.80 164.72,321.82 165.01,321.84 165.30,321.86 165.59,321.87 165.88,321.88 166.17,321.89 166.46,321.89 166.75,321.90 167.04,321.90 167.33,321.89 167.62,321.89 167.91,321.88 168.20,321.87 168.49,321.85 168.77,321.84 169.06,321.82 169.35,321.80 169.64,321.78 169.93,321.75 170.22,321.72 170.51,321.69 170.80,321.66 171.09,321.63 171.38,321.59 171.67,321.55 171.96,321.51 172.25,321.47 172.54,321.43 172.83,321.38 173.12,321.33 173.41,321.28 173.70,321.23 173.99,321.17 174.27,321.12 174.56,321.06 174.85,321.00 175.14,320.94 175.43,320.87 175.72,320.81 176.01,320.74 176.30,320.67 176.59,320.60 176.88,320.53 177.17,320.46 177.46,320.38 177.75,320.30 178.04,320.23 178.33,320.15 178.62,320.06 178.91,319.98 179.20,319.90 179.49,319.81 179.77,319.72 180.06,319.63 180.35,319.54 180.64,319.45 180.93,319.35 181.22,319.26 181.51,319.16 181.80,319.06 182.09,318.96 182.38,318.86 182.67,318.76 182.96,318.65 183.25,318.54 183.54,318.44 183.83,318.33 184.12,318.22 184.41,318.11 184.70,317.99 184.99,317.88 185.28,317.77 185.56,317.65 185.85,317.53 186.14,317.41 186.43,317.29 186.72,317.17 187.01,317.04 187.30,316.92 187.59,316.79 187.88,316.67 188.17,316.54 188.46,316.41 188.75,316.28 189.04,316.15 189.33,316.01 189.62,315.88 189.91,315.74 190.20,315.60 190.49,315.47 190.78,315.33 191.06,315.19 191.35,315.04 191.64,314.90 191.93,314.76 192.22,314.61 192.51,314.46 192.80,314.32 193.09,314.17 193.38,314.02 193.67,313.86 193.96,313.71 194.25,313.56 194.54,313.40 194.83,313.25 195.12,313.09 195.41,312.93 195.70,312.77 195.99,312.61 196.28,312.45 196.56,312.29 196.85,312.12 197.14,311.96 197.43,311.79 197.72,311.62 198.01,311.45 198.30,311.28 198.59,311.11 198.88,310.94 199.17,310.77 200.30,310.08 201.43,309.38 202.55,308.66 203.68,307.93 204.81,307.17 205.94,306.41 207.07,305.62 208.20,304.82 209.32,304.01 210.45,303.17 211.58,302.33 212.71,301.46 213.84,300.58 214.96,299.69 216.09,298.78 217.22,297.85 218.35,296.91 219.48,295.96 220.61,294.99 221.73,294.01 222.86,293.01 223.99,291.99 225.12,290.97 226.25,289.93 227.37,288.87 228.50,287.81 229.63,286.73 230.76,285.64 231.89,284.54 233.02,283.42 234.14,282.30 235.27,281.16 236.40,280.02 237.53,278.87 238.66,277.71 239.78,276.54 240.91,275.37 242.04,274.19 243.17,273.00 244.30,271.82 245.43,270.63 246.55,269.44 247.68,268.25 248.81,267.06 249.94,265.87 251.07,264.69 252.20,263.51 253.32,262.34 254.45,261.18 255.58,260.03 256.71,258.90 257.84,257.77 258.96,256.67 260.09,255.58 261.22,254.51 262.35,253.46 263.48,252.44 264.61,251.44 265.73,250.47 266.86,249.53 267.99,248.63 269.12,247.75 270.25,246.91 271.37,246.12 272.50,245.36 273.63,244.64 274.76,243.96 275.89,243.33 277.02,242.75 278.14,242.21 279.27,241.72 280.40,241.29 281.53,240.90 282.66,240.56 283.78,240.28 284.91,240.05 286.04,239.87 287.17,239.75 288.30,239.68 289.43,239.66 290.55,239.69 291.68,239.78 292.81,239.92 293.94,240.10 295.07,240.34 296.19,240.63 297.32,240.96 298.45,241.34 299.58,241.77 300.71,242.24 301.84,242.74 302.96,243.29 304.09,243.88 305.22,244.50 306.35,245.16 307.48,245.85 308.60,246.57 309.73,247.32 310.86,248.09 311.99,248.89 313.12,249.72 314.25,250.56 315.37,251.43 316.50,252.31 317.63,253.22 318.76,254.13 319.89,255.06 321.01,256.00 322.14,256.95 323.27,257.91 324.40,258.88 325.53,259.85 326.66,260.83 327.78,261.81 328.91,262.79 330.04,263.78 331.17,264.77 332.30,265.76 333.43,266.74 334.55,267.73 335.68,268.71 336.81,269.69 337.94,270.67 339.07,271.64 340.19,272.61 341.32,273.57 342.45,274.52 343.58,275.47 344.71,276.41 345.84,277.35 346.96,278.28 348.09,279.20 349.22,280.11 350.35,281.01 351.48,281.91 352.60,282.79 353.73,283.67 354.86,284.54 355.99,285.40 357.12,286.25 358.25,287.10 359.37,287.93 360.50,288.75 361.63,289.57 362.76,290.38 363.89,291.17 365.01,291.96 366.14,292.74 367.27,293.51 368.40,294.26 369.53,295.02 370.66,295.76 371.78,296.49 372.91,297.21 374.04,297.93 375.17,298.63 376.30,299.33 377.42,300.02 378.55,300.70 379.68,301.37 380.81,302.03 381.94,302.68 383.07,303.33 384.19,303.97 385.32,304.60 386.45,305.22 387.58,305.83 388.71,306.44 389.83,307.04 390.96,307.63 392.09,308.21 393.22,308.79 394.35,309.36 395.48,309.92 396.60,310.47 397.73,311.02 398.86,311.56 399.99,312.10 401.12,312.62 402.24,313.14 403.37,313.66 404.50,314.17 405.63,314.67 406.76,315.17 407.89,315.65 409.01,316.14 410.14,316.62 411.27,317.09 412.40,317.55 413.53,318.01 414.66,318.47 415.78,318.92 416.91,319.36 418.04,319.80 419.17,320.24 420.30,320.66 421.42,321.09 422.55,321.51 423.68,321.92 424.81,322.33 425.94,322.73 427.07,323.13 428.19,323.53 429.32,323.92 430.45,324.30 431.58,324.68 432.71,325.06 433.83,325.43 434.96,325.80 436.09,326.17 437.22,326.53 438.35,326.88 439.48,327.24 440.60,327.59 441.73,327.93 442.86,328.27 443.99,328.61 445.12,328.94 446.24,329.27 447.37,329.60 448.50,329.92 449.63,330.24 450.76,330.56 451.89,330.87 453.01,331.18 454.14,331.49 455.27,331.79 456.40,332.09 457.53,332.39 458.65,332.68 459.78,332.97 460.91,333.26 462.04,333.54 463.17,333.83 464.30,334.10 465.42,334.38 466.55,334.65 467.68,334.93 468.81,335.19 469.94,335.46 471.06,335.72 472.19,335.98 473.32,336.24 474.45,336.50 475.58,336.75 476.71,337.00 477.83,337.25 478.96,337.49 480.09,337.74 481.22,337.98 482.35,338.22 483.47,338.45 484.60,338.69 485.73,338.92 486.86,339.15 487.99,339.38 489.12,339.60 490.24,339.83 491.37,340.05 492.50,340.27 493.63,340.49 494.76,340.70 495.89,340.92 497.01,341.13 498.14,341.34 499.27,341.55 500.40,341.76 501.53,341.96 502.65,342.16 503.78,342.36 504.91,342.56 506.04,342.76 507.17,342.96 508.30,343.15 509.42,343.35 510.55,343.54 511.68,343.73 512.81,343.91 513.94,344.10 515.06,344.29 516.19,344.47 517.32,344.65 518.45,344.83 519.58,345.01 520.71,345.19 521.83,345.36 522.96,345.54 524.09,345.71 525.22,345.88 526.35,346.05 527.47,346.22 528.60,346.39 529.73,346.56 530.86,346.72 531.99,346.89 533.12,347.05 534.24,347.21 535.37,347.37 536.50,347.53" fill="none" stroke="#2A80A8" stroke-width="3.15" stroke-linejoin="round" stroke-linecap="round"/></g>
<g font-size="18.5"><text x="57.70" y="415.5" text-anchor="middle">0</text><text x="178.97" y="415.5" text-anchor="middle">0.5</text><text x="299.45" y="415.5" text-anchor="middle">1</text><text x="419.92" y="415.5" text-anchor="middle">1.5</text><text x="540.40" y="415.5" text-anchor="middle">2</text><text x="52.099999999999994" y="400.40" text-anchor="end">0</text><text x="53.3" y="324.78" text-anchor="end">0.5</text><text x="52.099999999999994" y="249.16" text-anchor="end">1</text><text x="53.3" y="173.54" text-anchor="end">1.5</text><text x="52.099999999999994" y="97.92" text-anchor="end">2</text><text x="53.3" y="22.30" text-anchor="end">2.5</text></g>
<rect x="430.6" y="25.4" width="98.9" height="126.7" fill="#fff" stroke="#262626" stroke-width="1"/>
<g><line x1="435.7" y1="35.80" x2="479.6" y2="35.80" stroke="#DF6F4F" stroke-width="3.15" stroke-linecap="round"/><text x="487.6" y="41.80" font-size="15.2" stroke="#1a1a1a" stroke-width="0.2">Q=0.2</text><line x1="435.7" y1="53.55" x2="479.6" y2="53.55" stroke="#81B29A" stroke-width="3.15" stroke-linecap="round"/><text x="487.6" y="59.55" font-size="15.2" stroke="#1a1a1a" stroke-width="0.2">Q=0.3</text><line x1="435.7" y1="71.30" x2="479.6" y2="71.30" stroke="#F2CC8F" stroke-width="3.15" stroke-linecap="round"/><text x="487.6" y="77.30" font-size="15.2" stroke="#1a1a1a" stroke-width="0.2">Q=0.4</text><line x1="435.7" y1="89.05" x2="479.6" y2="89.05" stroke="#24436E" stroke-width="3.15" stroke-linecap="round"/><text x="487.6" y="95.05" font-size="15.2" stroke="#1a1a1a" stroke-width="0.2">Q=0.5</text><line x1="435.7" y1="106.80" x2="479.6" y2="106.80" stroke="#E8A838" stroke-width="3.15" stroke-linecap="round"/><text x="487.6" y="112.80" font-size="15.2" stroke="#1a1a1a" stroke-width="0.2">Q=0.7</text><line x1="435.7" y1="124.55" x2="479.6" y2="124.55" stroke="#C0443C" stroke-width="3.15" stroke-linecap="round"/><text x="487.6" y="130.55" font-size="15.2" stroke="#1a1a1a" stroke-width="0.2">Q=0.8</text><line x1="435.7" y1="142.30" x2="479.6" y2="142.30" stroke="#2A80A8" stroke-width="3.15" stroke-linecap="round"/><text x="488.8" y="148.30" font-size="15.2" stroke="#1a1a1a" stroke-width="0.2">Q=1</text></g>
<g font-size="23">
<text x="182.2" y="443.1" textLength="111.8" lengthAdjust="spacingAndGlyphs">normalized</text>
<text x="302.7" y="443.1" textLength="95.3" lengthAdjust="spacingAndGlyphs">frequency</text>
<text x="406.4" y="444.0" class="fi">f</text>
<text x="414.4" y="442.7" font-size="15" stroke="#1a1a1a" stroke-width="0.2">n</text>
<g transform="translate(23.8,0) rotate(-90)">
<text x="-276.5" y="0" textLength="70.5" lengthAdjust="spacingAndGlyphs">voltage</text>
<text x="-198.5" y="0" textLength="37.8" lengthAdjust="spacingAndGlyphs">gain</text>
<text x="-151.6" y="0" textLength="21.4" lengthAdjust="spacingAndGlyphs" font-style="italic">M</text>
</g>
</g>
</svg>
</body></html>
